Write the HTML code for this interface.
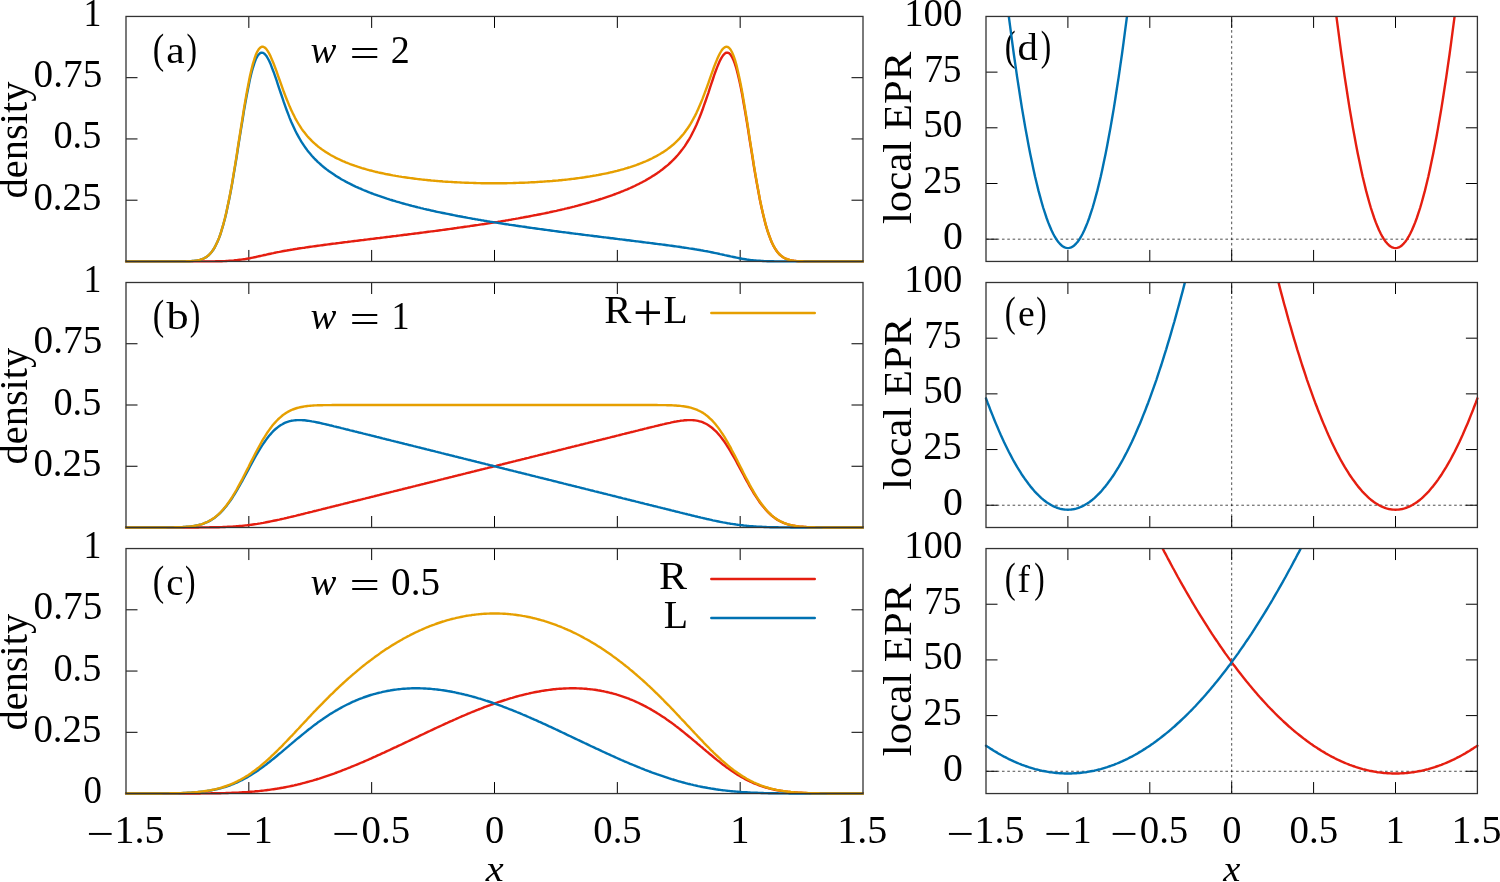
<!DOCTYPE html>
<html><head><meta charset="utf-8"><title>density and local EPR</title>
<style>html,body{margin:0;padding:0;background:#fff;width:1500px;height:882px;overflow:hidden}svg{display:block}</style>
</head><body>
<svg width="1500" height="882" viewBox="0 0 1500 882" font-family="'Liberation Serif', serif" font-size="38.50" fill="#000">
<rect width="1500" height="882" fill="#fff"/>
<defs>
<clipPath id="cr0"><rect x="984.00" y="16.45" width="495.40" height="246.00"/></clipPath>
<clipPath id="cr1"><rect x="984.00" y="282.50" width="495.40" height="246.00"/></clipPath>
<clipPath id="cr2"><rect x="984.00" y="548.55" width="495.40" height="246.00"/></clipPath>
</defs>
<path fill="none" stroke="#000" stroke-width="1.00" d="M248.83 261.45V249.95M248.83 16.45V27.95M371.67 261.45V249.95M371.67 16.45V27.95M494.50 261.45V249.95M494.50 16.45V27.95M617.33 261.45V249.95M617.33 16.45V27.95M740.17 261.45V249.95M740.17 16.45V27.95M126.00 200.20H137.50M863.00 200.20H851.50M126.00 138.95H137.50M863.00 138.95H851.50M126.00 77.70H137.50M863.00 77.70H851.50"/>
<text x="83.52" y="25.95" textLength="17.87" lengthAdjust="spacingAndGlyphs" font-size="40">1</text>
<text x="33.62" y="87.20" textLength="68.66" lengthAdjust="spacingAndGlyphs" font-size="40">0.75</text>
<text x="53.44" y="148.45" textLength="47.92" lengthAdjust="spacingAndGlyphs" font-size="40">0.5</text>
<text x="33.43" y="209.70" textLength="67.94" lengthAdjust="spacingAndGlyphs" font-size="40">0.25</text>
<text transform="translate(27.00,198.41) rotate(-90)" x="0" y="0" textLength="116.75" lengthAdjust="spacingAndGlyphs" font-size="40">density</text>
<text x="152.70" y="62.90" textLength="11.46" lengthAdjust="spacingAndGlyphs" font-size="43">(</text>
<text x="166.23" y="62.90" textLength="18.38" lengthAdjust="spacingAndGlyphs">a</text>
<text x="186.57" y="62.90" textLength="10.51" lengthAdjust="spacingAndGlyphs" font-size="43">)</text>
<text x="310.59" y="62.90" textLength="25.89" lengthAdjust="spacingAndGlyphs" font-style="italic">w</text>
<text x="349.60" y="66.30" textLength="30.41" lengthAdjust="spacingAndGlyphs">=</text>
<text x="390.85" y="62.90" textLength="19.01" lengthAdjust="spacingAndGlyphs" font-size="39">2</text>
<polyline fill="none" stroke="#E51E10" stroke-width="2.40" stroke-linejoin="round" stroke-linecap="round"  points="126.1,261.5 127.6,261.4 129.1,261.4 130.5,261.4 132.0,261.4 133.5,261.4 135.0,261.4 136.4,261.4 137.9,261.4 139.4,261.4 140.9,261.4 142.3,261.4 143.8,261.4 145.3,261.4 146.8,261.4 148.2,261.4 149.7,261.4 151.2,261.4 152.7,261.4 154.1,261.4 155.6,261.4 157.1,261.4 158.6,261.4 160.0,261.4 161.5,261.4 163.0,261.4 164.4,261.4 165.9,261.4 167.4,261.4 168.9,261.4 170.3,261.4 171.8,261.4 173.3,261.4 174.8,261.4 176.2,261.4 177.7,261.4 179.2,261.4 180.7,261.4 182.1,261.4 183.6,261.4 185.1,261.4 186.6,261.4 188.0,261.4 189.5,261.4 191.0,261.4 192.5,261.4 193.9,261.4 195.4,261.4 196.9,261.4 198.3,261.4 199.8,261.4 201.3,261.4 202.8,261.4 204.2,261.4 205.7,261.4 207.2,261.4 208.7,261.4 210.1,261.4 211.6,261.4 213.1,261.4 214.6,261.4 216.0,261.3 217.5,261.3 219.0,261.3 220.5,261.2 221.9,261.2 223.4,261.1 224.9,261.1 226.4,261.0 227.8,260.9 229.3,260.8 230.8,260.7 232.3,260.6 233.7,260.5 235.2,260.3 236.7,260.2 238.1,260.0 239.6,259.8 241.1,259.6 242.6,259.4 244.0,259.2 245.5,259.0 247.0,258.7 248.5,258.4 249.9,258.2 251.4,257.9 252.9,257.6 254.4,257.3 255.8,257.0 257.3,256.6 258.8,256.3 260.3,256.0 261.7,255.7 263.2,255.3 264.7,255.0 266.2,254.7 267.6,254.3 269.1,254.0 270.6,253.7 272.0,253.4 273.5,253.1 275.0,252.7 276.5,252.4 277.9,252.1 279.4,251.9 280.9,251.6 282.4,251.3 283.8,251.0 285.3,250.7 286.8,250.5 288.3,250.2 289.7,250.0 291.2,249.7 292.7,249.5 294.2,249.2 295.6,249.0 297.1,248.8 298.6,248.5 300.1,248.3 301.5,248.1 303.0,247.9 304.5,247.7 306.0,247.4 307.4,247.2 308.9,247.0 310.4,246.8 311.8,246.6 313.3,246.4 314.8,246.2 316.3,246.0 317.7,245.8 319.2,245.6 320.7,245.4 322.2,245.2 323.6,245.0 325.1,244.8 326.6,244.6 328.1,244.4 329.5,244.2 331.0,244.0 332.5,243.8 334.0,243.6 335.4,243.5 336.9,243.3 338.4,243.1 339.9,242.9 341.3,242.7 342.8,242.5 344.3,242.3 345.7,242.1 347.2,242.0 348.7,241.8 350.2,241.6 351.6,241.4 353.1,241.2 354.6,241.0 356.1,240.9 357.5,240.7 359.0,240.5 360.5,240.3 362.0,240.1 363.4,240.0 364.9,239.8 366.4,239.6 367.9,239.4 369.3,239.2 370.8,239.0 372.3,238.9 373.8,238.7 375.2,238.5 376.7,238.3 378.2,238.1 379.7,238.0 381.1,237.8 382.6,237.6 384.1,237.4 385.5,237.2 387.0,237.0 388.5,236.9 390.0,236.7 391.4,236.5 392.9,236.3 394.4,236.1 395.9,236.0 397.3,235.8 398.8,235.6 400.3,235.4 401.8,235.2 403.2,235.0 404.7,234.8 406.2,234.7 407.7,234.5 409.1,234.3 410.6,234.1 412.1,233.9 413.6,233.7 415.0,233.5 416.5,233.4 418.0,233.2 419.4,233.0 420.9,232.8 422.4,232.6 423.9,232.4 425.3,232.2 426.8,232.0 428.3,231.8 429.8,231.6 431.2,231.4 432.7,231.3 434.2,231.1 435.7,230.9 437.1,230.7 438.6,230.5 440.1,230.3 441.6,230.1 443.0,229.9 444.5,229.7 446.0,229.5 447.5,229.3 448.9,229.1 450.4,228.9 451.9,228.7 453.4,228.5 454.8,228.3 456.3,228.1 457.8,227.8 459.2,227.6 460.7,227.4 462.2,227.2 463.7,227.0 465.1,226.8 466.6,226.6 468.1,226.4 469.6,226.2 471.0,225.9 472.5,225.7 474.0,225.5 475.5,225.3 476.9,225.1 478.4,224.9 479.9,224.6 481.4,224.4 482.8,224.2 484.3,224.0 485.8,223.7 487.3,223.5 488.7,223.3 490.2,223.0 491.7,222.8 493.1,222.6 494.6,222.3 496.1,222.1 497.6,221.9 499.0,221.6 500.5,221.4 502.0,221.1 503.5,220.9 504.9,220.7 506.4,220.4 507.9,220.2 509.4,219.9 510.8,219.7 512.3,219.4 513.8,219.1 515.3,218.9 516.7,218.6 518.2,218.4 519.7,218.1 521.2,217.8 522.6,217.6 524.1,217.3 525.6,217.0 527.1,216.7 528.5,216.5 530.0,216.2 531.5,215.9 532.9,215.6 534.4,215.3 535.9,215.1 537.4,214.8 538.8,214.5 540.3,214.2 541.8,213.9 543.3,213.6 544.7,213.3 546.2,213.0 547.7,212.7 549.2,212.4 550.6,212.0 552.1,211.7 553.6,211.4 555.1,211.1 556.5,210.8 558.0,210.4 559.5,210.1 561.0,209.8 562.4,209.4 563.9,209.1 565.4,208.7 566.8,208.4 568.3,208.0 569.8,207.7 571.3,207.3 572.7,206.9 574.2,206.6 575.7,206.2 577.2,205.8 578.6,205.4 580.1,205.0 581.6,204.6 583.1,204.2 584.5,203.8 586.0,203.4 587.5,203.0 589.0,202.6 590.4,202.2 591.9,201.7 593.4,201.3 594.9,200.9 596.3,200.4 597.8,200.0 599.3,199.5 600.8,199.0 602.2,198.6 603.7,198.1 605.2,197.6 606.6,197.1 608.1,196.6 609.6,196.1 611.1,195.6 612.5,195.1 614.0,194.5 615.5,194.0 617.0,193.4 618.4,192.9 619.9,192.3 621.4,191.7 622.9,191.1 624.3,190.5 625.8,189.9 627.3,189.3 628.8,188.6 630.2,188.0 631.7,187.3 633.2,186.6 634.7,186.0 636.1,185.2 637.6,184.5 639.1,183.8 640.5,183.0 642.0,182.3 643.5,181.5 645.0,180.7 646.4,179.9 647.9,179.0 649.4,178.1 650.9,177.3 652.3,176.3 653.8,175.4 655.3,174.4 656.8,173.5 658.2,172.4 659.7,171.4 661.2,170.3 662.7,169.2 664.1,168.0 665.6,166.8 667.1,165.6 668.6,164.3 670.0,163.0 671.5,161.6 673.0,160.2 674.5,158.7 675.9,157.1 677.4,155.5 678.9,153.8 680.3,152.0 681.8,150.1 683.3,148.1 684.8,146.1 686.2,143.9 687.7,141.5 689.2,139.1 690.7,136.5 692.1,133.7 693.6,130.8 695.1,127.7 696.6,124.5 698.0,121.1 699.5,117.5 701.0,113.7 702.5,109.8 703.9,105.7 705.4,101.5 706.9,97.2 708.4,92.8 709.8,88.3 711.3,83.9 712.8,79.5 714.2,75.2 715.7,71.0 717.2,67.1 718.7,63.5 720.1,60.3 721.6,57.6 723.1,55.4 724.6,53.8 726.0,52.8 727.5,52.6 729.0,53.2 730.5,54.6 731.9,56.8 733.4,59.9 734.9,63.9 736.4,68.6 737.8,74.2 739.3,80.6 740.8,87.6 742.3,95.3 743.7,103.5 745.2,112.1 746.7,121.0 748.2,130.2 749.6,139.5 751.1,148.8 752.6,158.0 754.0,167.0 755.5,175.8 757.0,184.2 758.5,192.3 759.9,199.9 761.4,207.0 762.9,213.6 764.4,219.7 765.8,225.2 767.3,230.2 768.8,234.7 770.3,238.7 771.7,242.2 773.2,245.3 774.7,248.0 776.2,250.3 777.6,252.3 779.1,254.0 780.6,255.4 782.1,256.6 783.5,257.5 785.0,258.3 786.5,259.0 787.9,259.5 789.4,259.9 790.9,260.3 792.4,260.6 793.8,260.8 795.3,260.9 796.8,261.1 798.3,261.2 799.7,261.2 801.2,261.3 802.7,261.3 804.2,261.4 805.6,261.4 807.1,261.4 808.6,261.4 810.1,261.4 811.5,261.4 813.0,261.4 814.5,261.4 816.0,261.4 817.4,261.4 818.9,261.4 820.4,261.4 821.9,261.4 823.3,261.4 824.8,261.4 826.3,261.4 827.7,261.4 829.2,261.4 830.7,261.4 832.2,261.4 833.6,261.4 835.1,261.4 836.6,261.4 838.1,261.4 839.5,261.4 841.0,261.4 842.5,261.4 844.0,261.4 845.4,261.4 846.9,261.4 848.4,261.4 849.9,261.4 851.3,261.4 852.8,261.4 854.3,261.4 855.8,261.4 857.2,261.4 858.7,261.4 860.2,261.4 861.6,261.4 862.9,261.4"/>
<polyline fill="none" stroke="#0072B2" stroke-width="2.40" stroke-linejoin="round" stroke-linecap="round"  points="126.1,261.4 127.6,261.4 129.1,261.4 130.5,261.4 132.0,261.4 133.5,261.4 135.0,261.4 136.4,261.4 137.9,261.4 139.4,261.4 140.9,261.4 142.3,261.4 143.8,261.4 145.3,261.4 146.8,261.4 148.2,261.4 149.7,261.4 151.2,261.4 152.7,261.4 154.1,261.4 155.6,261.4 157.1,261.4 158.6,261.4 160.0,261.4 161.5,261.4 163.0,261.4 164.4,261.4 165.9,261.4 167.4,261.4 168.9,261.4 170.3,261.4 171.8,261.4 173.3,261.4 174.8,261.4 176.2,261.4 177.7,261.4 179.2,261.4 180.7,261.4 182.1,261.4 183.6,261.4 185.1,261.4 186.6,261.3 188.0,261.3 189.5,261.2 191.0,261.1 192.5,261.0 193.9,260.9 195.4,260.7 196.9,260.5 198.3,260.2 199.8,259.9 201.3,259.4 202.8,258.9 204.2,258.2 205.7,257.4 207.2,256.4 208.7,255.2 210.1,253.7 211.6,252.0 213.1,250.0 214.6,247.6 216.0,244.8 217.5,241.7 219.0,238.1 220.5,234.0 221.9,229.4 223.4,224.3 224.9,218.7 226.4,212.5 227.8,205.8 229.3,198.7 230.8,191.0 232.3,182.9 233.7,174.4 235.2,165.5 236.7,156.5 238.1,147.2 239.6,137.9 241.1,128.6 242.6,119.5 244.0,110.6 245.5,102.1 247.0,94.0 248.5,86.4 249.9,79.5 251.4,73.3 252.9,67.8 254.4,63.1 255.8,59.3 257.3,56.4 258.8,54.3 260.3,53.0 261.7,52.6 263.2,52.9 264.7,54.0 266.2,55.7 267.6,58.0 269.1,60.8 270.6,64.1 272.0,67.8 273.5,71.7 275.0,75.9 276.5,80.2 277.9,84.6 279.4,89.1 280.9,93.5 282.4,97.9 283.8,102.2 285.3,106.4 286.8,110.5 288.3,114.4 289.7,118.1 291.2,121.7 292.7,125.0 294.2,128.3 295.6,131.3 297.1,134.2 298.6,136.9 300.1,139.5 301.5,141.9 303.0,144.2 304.5,146.4 306.0,148.5 307.4,150.4 308.9,152.3 310.4,154.1 311.8,155.8 313.3,157.4 314.8,159.0 316.3,160.4 317.7,161.9 319.2,163.2 320.7,164.5 322.2,165.8 323.6,167.0 325.1,168.2 326.6,169.4 328.1,170.5 329.5,171.6 331.0,172.6 332.5,173.6 334.0,174.6 335.4,175.6 336.9,176.5 338.4,177.4 339.9,178.3 341.3,179.2 342.8,180.0 344.3,180.8 345.7,181.6 347.2,182.4 348.7,183.2 350.2,183.9 351.6,184.6 353.1,185.4 354.6,186.1 356.1,186.8 357.5,187.4 359.0,188.1 360.5,188.7 362.0,189.4 363.4,190.0 364.9,190.6 366.4,191.2 367.9,191.8 369.3,192.4 370.8,193.0 372.3,193.5 373.8,194.1 375.2,194.6 376.7,195.1 378.2,195.7 379.7,196.2 381.1,196.7 382.6,197.2 384.1,197.7 385.5,198.2 387.0,198.7 388.5,199.1 390.0,199.6 391.4,200.0 392.9,200.5 394.4,200.9 395.9,201.4 397.3,201.8 398.8,202.2 400.3,202.7 401.8,203.1 403.2,203.5 404.7,203.9 406.2,204.3 407.7,204.7 409.1,205.1 410.6,205.5 412.1,205.9 413.6,206.2 415.0,206.6 416.5,207.0 418.0,207.4 419.4,207.7 420.9,208.1 422.4,208.4 423.9,208.8 425.3,209.1 426.8,209.5 428.3,209.8 429.8,210.1 431.2,210.5 432.7,210.8 434.2,211.1 435.7,211.5 437.1,211.8 438.6,212.1 440.1,212.4 441.6,212.7 443.0,213.0 444.5,213.3 446.0,213.6 447.5,213.9 448.9,214.2 450.4,214.5 451.9,214.8 453.4,215.1 454.8,215.4 456.3,215.7 457.8,216.0 459.2,216.2 460.7,216.5 462.2,216.8 463.7,217.1 465.1,217.3 466.6,217.6 468.1,217.9 469.6,218.1 471.0,218.4 472.5,218.7 474.0,218.9 475.5,219.2 476.9,219.4 478.4,219.7 479.9,219.9 481.4,220.2 482.8,220.4 484.3,220.7 485.8,220.9 487.3,221.2 488.7,221.4 490.2,221.7 491.7,221.9 493.1,222.1 494.6,222.4 496.1,222.6 497.6,222.8 499.0,223.1 500.5,223.3 502.0,223.5 503.5,223.8 504.9,224.0 506.4,224.2 507.9,224.4 509.4,224.7 510.8,224.9 512.3,225.1 513.8,225.3 515.3,225.5 516.7,225.8 518.2,226.0 519.7,226.2 521.2,226.4 522.6,226.6 524.1,226.8 525.6,227.0 527.1,227.3 528.5,227.5 530.0,227.7 531.5,227.9 532.9,228.1 534.4,228.3 535.9,228.5 537.4,228.7 538.8,228.9 540.3,229.1 541.8,229.3 543.3,229.5 544.7,229.7 546.2,229.9 547.7,230.1 549.2,230.3 550.6,230.5 552.1,230.7 553.6,230.9 555.1,231.1 556.5,231.3 558.0,231.5 559.5,231.7 561.0,231.9 562.4,232.1 563.9,232.2 565.4,232.4 566.8,232.6 568.3,232.8 569.8,233.0 571.3,233.2 572.7,233.4 574.2,233.6 575.7,233.8 577.2,233.9 578.6,234.1 580.1,234.3 581.6,234.5 583.1,234.7 584.5,234.9 586.0,235.1 587.5,235.2 589.0,235.4 590.4,235.6 591.9,235.8 593.4,236.0 594.9,236.2 596.3,236.3 597.8,236.5 599.3,236.7 600.8,236.9 602.2,237.1 603.7,237.3 605.2,237.4 606.6,237.6 608.1,237.8 609.6,238.0 611.1,238.2 612.5,238.3 614.0,238.5 615.5,238.7 617.0,238.9 618.4,239.1 619.9,239.3 621.4,239.4 622.9,239.6 624.3,239.8 625.8,240.0 627.3,240.2 628.8,240.3 630.2,240.5 631.7,240.7 633.2,240.9 634.7,241.1 636.1,241.3 637.6,241.4 639.1,241.6 640.5,241.8 642.0,242.0 643.5,242.2 645.0,242.4 646.4,242.6 647.9,242.7 649.4,242.9 650.9,243.1 652.3,243.3 653.8,243.5 655.3,243.7 656.8,243.9 658.2,244.1 659.7,244.2 661.2,244.4 662.7,244.6 664.1,244.8 665.6,245.0 667.1,245.2 668.6,245.4 670.0,245.6 671.5,245.8 673.0,246.0 674.5,246.2 675.9,246.4 677.4,246.6 678.9,246.8 680.3,247.0 681.8,247.3 683.3,247.5 684.8,247.7 686.2,247.9 687.7,248.1 689.2,248.4 690.7,248.6 692.1,248.8 693.6,249.0 695.1,249.3 696.6,249.5 698.0,249.8 699.5,250.0 701.0,250.3 702.5,250.5 703.9,250.8 705.4,251.1 706.9,251.3 708.4,251.6 709.8,251.9 711.3,252.2 712.8,252.5 714.2,252.8 715.7,253.1 717.2,253.4 718.7,253.7 720.1,254.1 721.6,254.4 723.1,254.7 724.6,255.1 726.0,255.4 727.5,255.7 729.0,256.0 730.5,256.4 731.9,256.7 733.4,257.0 734.9,257.3 736.4,257.6 737.8,257.9 739.3,258.2 740.8,258.5 742.3,258.8 743.7,259.0 745.2,259.2 746.7,259.5 748.2,259.7 749.6,259.9 751.1,260.1 752.6,260.2 754.0,260.4 755.5,260.5 757.0,260.6 758.5,260.7 759.9,260.8 761.4,260.9 762.9,261.0 764.4,261.1 765.8,261.1 767.3,261.2 768.8,261.2 770.3,261.3 771.7,261.3 773.2,261.3 774.7,261.4 776.2,261.4 777.6,261.4 779.1,261.4 780.6,261.4 782.1,261.4 783.5,261.4 785.0,261.4 786.5,261.4 787.9,261.4 789.4,261.4 790.9,261.4 792.4,261.4 793.8,261.4 795.3,261.4 796.8,261.4 798.3,261.4 799.7,261.4 801.2,261.4 802.7,261.4 804.2,261.4 805.6,261.4 807.1,261.4 808.6,261.4 810.1,261.4 811.5,261.4 813.0,261.4 814.5,261.4 816.0,261.4 817.4,261.4 818.9,261.4 820.4,261.4 821.9,261.4 823.3,261.4 824.8,261.4 826.3,261.4 827.7,261.4 829.2,261.4 830.7,261.4 832.2,261.4 833.6,261.4 835.1,261.4 836.6,261.4 838.1,261.4 839.5,261.4 841.0,261.4 842.5,261.4 844.0,261.4 845.4,261.4 846.9,261.4 848.4,261.4 849.9,261.4 851.3,261.4 852.8,261.4 854.3,261.4 855.8,261.4 857.2,261.4 858.7,261.4 860.2,261.4 861.6,261.4 862.9,261.4"/>
<polyline fill="none" stroke="#E69F00" stroke-width="2.40" stroke-linejoin="round" stroke-linecap="round"  points="126.1,261.4 127.6,261.4 129.1,261.4 130.5,261.4 132.0,261.4 133.5,261.4 135.0,261.4 136.4,261.4 137.9,261.4 139.4,261.4 140.9,261.4 142.3,261.4 143.8,261.4 145.3,261.4 146.8,261.4 148.2,261.4 149.7,261.4 151.2,261.4 152.7,261.4 154.1,261.4 155.6,261.4 157.1,261.4 158.6,261.4 160.0,261.4 161.5,261.4 163.0,261.4 164.4,261.4 165.9,261.4 167.4,261.4 168.9,261.4 170.3,261.4 171.8,261.4 173.3,261.4 174.8,261.4 176.2,261.4 177.7,261.4 179.2,261.4 180.7,261.4 182.1,261.4 183.6,261.4 185.1,261.4 186.6,261.3 188.0,261.3 189.5,261.2 191.0,261.1 192.5,261.0 193.9,260.9 195.4,260.7 196.9,260.5 198.3,260.2 199.8,259.9 201.3,259.4 202.8,258.9 204.2,258.2 205.7,257.4 207.2,256.3 208.7,255.1 210.1,253.7 211.6,251.9 213.1,249.9 214.6,247.5 216.0,244.7 217.5,241.5 219.0,237.9 220.5,233.8 221.9,229.2 223.4,224.0 224.9,218.3 226.4,212.1 227.8,205.3 229.3,198.0 230.8,190.3 232.3,182.0 233.7,173.4 235.2,164.4 236.7,155.2 238.1,145.8 239.6,136.3 241.1,126.8 242.6,117.5 244.0,108.4 245.5,99.6 247.0,91.2 248.5,83.4 249.9,76.2 251.4,69.7 252.9,63.9 254.4,59.0 255.8,54.8 257.3,51.6 258.8,49.1 260.3,47.6 261.7,46.8 263.2,46.8 264.7,47.5 266.2,48.9 267.6,50.9 269.1,53.4 270.6,56.4 272.0,59.7 273.5,63.3 275.0,67.2 276.5,71.2 277.9,75.3 279.4,79.5 280.9,83.6 282.4,87.8 283.8,91.8 285.3,95.7 286.8,99.5 288.3,103.1 289.7,106.6 291.2,109.9 292.7,113.1 294.2,116.0 295.6,118.9 297.1,121.5 298.6,124.0 300.1,126.4 301.5,128.6 303.0,130.7 304.5,132.6 306.0,134.5 307.4,136.2 308.9,137.9 310.4,139.4 311.8,140.9 313.3,142.3 314.8,143.7 316.3,145.0 317.7,146.2 319.2,147.4 320.7,148.5 322.2,149.6 323.6,150.6 325.1,151.6 326.6,152.5 328.1,153.4 329.5,154.3 331.0,155.2 332.5,156.0 334.0,156.8 335.4,157.6 336.9,158.3 338.4,159.0 339.9,159.7 341.3,160.4 342.8,161.1 344.3,161.7 345.7,162.3 347.2,162.9 348.7,163.5 350.2,164.1 351.6,164.6 353.1,165.1 354.6,165.7 356.1,166.2 357.5,166.7 359.0,167.1 360.5,167.6 362.0,168.1 363.4,168.5 364.9,168.9 366.4,169.4 367.9,169.8 369.3,170.2 370.8,170.5 372.3,170.9 373.8,171.3 375.2,171.7 376.7,172.0 378.2,172.4 379.7,172.7 381.1,173.0 382.6,173.3 384.1,173.6 385.5,174.0 387.0,174.2 388.5,174.5 390.0,174.8 391.4,175.1 392.9,175.4 394.4,175.6 395.9,175.9 397.3,176.1 398.8,176.4 400.3,176.6 401.8,176.9 403.2,177.1 404.7,177.3 406.2,177.5 407.7,177.7 409.1,177.9 410.6,178.1 412.1,178.3 413.6,178.5 415.0,178.7 416.5,178.9 418.0,179.1 419.4,179.2 420.9,179.4 422.4,179.6 423.9,179.7 425.3,179.9 426.8,180.0 428.3,180.2 429.8,180.3 431.2,180.5 432.7,180.6 434.2,180.7 435.7,180.9 437.1,181.0 438.6,181.1 440.1,181.2 441.6,181.3 443.0,181.5 444.5,181.6 446.0,181.7 447.5,181.8 448.9,181.9 450.4,181.9 451.9,182.0 453.4,182.1 454.8,182.2 456.3,182.3 457.8,182.4 459.2,182.4 460.7,182.5 462.2,182.6 463.7,182.6 465.1,182.7 466.6,182.7 468.1,182.8 469.6,182.9 471.0,182.9 472.5,182.9 474.0,183.0 475.5,183.0 476.9,183.1 478.4,183.1 479.9,183.1 481.4,183.2 482.8,183.2 484.3,183.2 485.8,183.2 487.3,183.2 488.7,183.2 490.2,183.3 491.7,183.3 493.1,183.3 494.6,183.3 496.1,183.3 497.6,183.3 499.0,183.3 500.5,183.2 502.0,183.2 503.5,183.2 504.9,183.2 506.4,183.2 507.9,183.1 509.4,183.1 510.8,183.1 512.3,183.1 513.8,183.0 515.3,183.0 516.7,182.9 518.2,182.9 519.7,182.8 521.2,182.8 522.6,182.7 524.1,182.7 525.6,182.6 527.1,182.6 528.5,182.5 530.0,182.4 531.5,182.3 532.9,182.3 534.4,182.2 535.9,182.1 537.4,182.0 538.8,181.9 540.3,181.8 541.8,181.7 543.3,181.6 544.7,181.5 546.2,181.4 547.7,181.3 549.2,181.2 550.6,181.1 552.1,181.0 553.6,180.8 555.1,180.7 556.5,180.6 558.0,180.5 559.5,180.3 561.0,180.2 562.4,180.0 563.9,179.9 565.4,179.7 566.8,179.6 568.3,179.4 569.8,179.2 571.3,179.0 572.7,178.9 574.2,178.7 575.7,178.5 577.2,178.3 578.6,178.1 580.1,177.9 581.6,177.7 583.1,177.5 584.5,177.3 586.0,177.0 587.5,176.8 589.0,176.6 590.4,176.3 591.9,176.1 593.4,175.8 594.9,175.6 596.3,175.3 597.8,175.1 599.3,174.8 600.8,174.5 602.2,174.2 603.7,173.9 605.2,173.6 606.6,173.3 608.1,173.0 609.6,172.6 611.1,172.3 612.5,172.0 614.0,171.6 615.5,171.2 617.0,170.9 618.4,170.5 619.9,170.1 621.4,169.7 622.9,169.3 624.3,168.9 625.8,168.4 627.3,168.0 628.8,167.5 630.2,167.1 631.7,166.6 633.2,166.1 634.7,165.6 636.1,165.1 637.6,164.5 639.1,164.0 640.5,163.4 642.0,162.8 643.5,162.2 645.0,161.6 646.4,161.0 647.9,160.3 649.4,159.6 650.9,158.9 652.3,158.2 653.8,157.4 655.3,156.7 656.8,155.9 658.2,155.0 659.7,154.2 661.2,153.3 662.7,152.4 664.1,151.4 665.6,150.4 667.1,149.4 668.6,148.3 670.0,147.2 671.5,146.0 673.0,144.8 674.5,143.5 675.9,142.1 677.4,140.7 678.9,139.2 680.3,137.6 681.8,135.9 683.3,134.2 684.8,132.3 686.2,130.3 687.7,128.2 689.2,126.0 690.7,123.6 692.1,121.1 693.6,118.4 695.1,115.6 696.6,112.6 698.0,109.4 699.5,106.0 701.0,102.5 702.5,98.9 703.9,95.1 705.4,91.1 706.9,87.1 708.4,83.0 709.8,78.8 711.3,74.6 712.8,70.5 714.2,66.5 715.7,62.7 717.2,59.1 718.7,55.8 720.1,53.0 721.6,50.5 723.1,48.6 724.6,47.4 726.0,46.7 727.5,46.9 729.0,47.8 730.5,49.5 731.9,52.0 733.4,55.5 734.9,59.7 736.4,64.8 737.8,70.7 739.3,77.4 740.8,84.7 742.3,92.6 743.7,101.0 745.2,109.9 746.7,119.0 748.2,128.4 749.6,137.9 751.1,147.4 752.6,156.7 754.0,165.9 755.5,174.9 757.0,183.4 758.5,191.6 759.9,199.3 761.4,206.5 762.9,213.2 764.4,219.3 765.8,224.9 767.3,230.0 768.8,234.5 770.3,238.5 771.7,242.1 773.2,245.2 774.7,247.9 776.2,250.2 777.6,252.2 779.1,253.9 780.6,255.3 782.1,256.5 783.5,257.5 785.0,258.3 786.5,259.0 787.9,259.5 789.4,259.9 790.9,260.3 792.4,260.6 793.8,260.8 795.3,260.9 796.8,261.1 798.3,261.2 799.7,261.2 801.2,261.3 802.7,261.3 804.2,261.4 805.6,261.4 807.1,261.4 808.6,261.4 810.1,261.4 811.5,261.4 813.0,261.4 814.5,261.4 816.0,261.4 817.4,261.4 818.9,261.4 820.4,261.4 821.9,261.4 823.3,261.4 824.8,261.4 826.3,261.4 827.7,261.4 829.2,261.4 830.7,261.4 832.2,261.4 833.6,261.4 835.1,261.4 836.6,261.4 838.1,261.4 839.5,261.4 841.0,261.4 842.5,261.4 844.0,261.4 845.4,261.4 846.9,261.4 848.4,261.4 849.9,261.4 851.3,261.4 852.8,261.4 854.3,261.4 855.8,261.4 857.2,261.4 858.7,261.4 860.2,261.4 861.6,261.4 862.9,261.4"/>
<rect x="126.00" y="16.45" width="737.00" height="245.00" fill="none" stroke="#333" stroke-width="1.30"/>
<path fill="none" stroke="#000" stroke-width="1.00" d="M1067.90 261.45V249.95M1067.90 16.45V27.95M1149.80 261.45V249.95M1149.80 16.45V27.95M1231.70 261.45V249.95M1231.70 16.45V27.95M1313.60 261.45V249.95M1313.60 16.45V27.95M1395.50 261.45V249.95M1395.50 16.45V27.95M986.00 239.18H997.50M1477.40 239.18H1465.90M986.00 183.50H997.50M1477.40 183.50H1465.90M986.00 127.81H997.50M1477.40 127.81H1465.90M986.00 72.13H997.50M1477.40 72.13H1465.90"/>
<text x="904.30" y="25.95" textLength="57.96" lengthAdjust="spacingAndGlyphs" font-size="40">100</text>
<text x="924.13" y="81.63" textLength="37.41" lengthAdjust="spacingAndGlyphs" font-size="40">75</text>
<text x="923.24" y="137.31" textLength="39.14" lengthAdjust="spacingAndGlyphs" font-size="40">50</text>
<text x="923.29" y="193.00" textLength="38.27" lengthAdjust="spacingAndGlyphs" font-size="40">25</text>
<text x="943.01" y="248.68" textLength="19.89" lengthAdjust="spacingAndGlyphs" font-size="40">0</text>
<text transform="translate(911.00,224.07) rotate(-90)" x="0" y="0" textLength="172.47" lengthAdjust="spacingAndGlyphs" font-size="40">local EPR</text>
<text x="1004.87" y="59.50" textLength="10.94" lengthAdjust="spacingAndGlyphs" font-size="43">(</text>
<text x="1017.54" y="59.50" textLength="20.32" lengthAdjust="spacingAndGlyphs">d</text>
<text x="1040.68" y="59.50" textLength="10.39" lengthAdjust="spacingAndGlyphs" font-size="43">)</text>
<path fill="none" stroke="#000" stroke-width="0.7" stroke-dasharray="2.6,2.72" d="M986.00 239.18H1477.40M1231.70 261.45V16.45"/>
<g clip-path="url(#cr0)">
<polyline fill="none" stroke="#E51E10" stroke-width="2.40" stroke-linejoin="round" stroke-linecap="round"  points="986.0,-10888.3 987.6,-10799.4 989.3,-10710.8 990.9,-10622.6 992.6,-10534.8 994.2,-10447.3 995.8,-10360.1 997.5,-10273.4 999.1,-10187.0 1000.7,-10100.9 1002.4,-10015.2 1004.0,-9929.8 1005.7,-9844.8 1007.3,-9760.2 1008.9,-9675.9 1010.6,-9592.0 1012.2,-9508.4 1013.8,-9425.2 1015.5,-9342.4 1017.1,-9259.9 1018.8,-9177.7 1020.4,-9095.9 1022.0,-9014.5 1023.7,-8933.4 1025.3,-8852.7 1027.0,-8772.4 1028.6,-8692.4 1030.2,-8612.7 1031.9,-8533.4 1033.5,-8454.5 1035.1,-8375.9 1036.8,-8297.7 1038.4,-8219.8 1040.1,-8142.3 1041.7,-8065.2 1043.3,-7988.4 1045.0,-7911.9 1046.6,-7835.8 1048.2,-7760.1 1049.9,-7684.7 1051.5,-7609.7 1053.2,-7535.1 1054.8,-7460.8 1056.4,-7386.8 1058.1,-7313.2 1059.7,-7240.0 1061.3,-7167.1 1063.0,-7094.6 1064.6,-7022.4 1066.3,-6950.6 1067.9,-6879.2 1069.5,-6808.1 1071.2,-6737.4 1072.8,-6667.0 1074.5,-6596.9 1076.1,-6527.3 1077.7,-6458.0 1079.4,-6389.0 1081.0,-6320.4 1082.6,-6252.2 1084.3,-6184.3 1085.9,-6116.7 1087.6,-6049.6 1089.2,-5982.8 1090.8,-5916.3 1092.5,-5850.2 1094.1,-5784.4 1095.7,-5719.0 1097.4,-5654.0 1099.0,-5589.3 1100.7,-5525.0 1102.3,-5461.0 1103.9,-5397.4 1105.6,-5334.2 1107.2,-5271.3 1108.8,-5208.7 1110.5,-5146.5 1112.1,-5084.7 1113.8,-5023.2 1115.4,-4962.1 1117.0,-4901.4 1118.7,-4841.0 1120.3,-4780.9 1122.0,-4721.2 1123.6,-4661.9 1125.2,-4602.9 1126.9,-4544.3 1128.5,-4486.0 1130.1,-4428.1 1131.8,-4370.6 1133.4,-4313.4 1135.1,-4256.5 1136.7,-4200.0 1138.3,-4143.9 1140.0,-4088.1 1141.6,-4032.7 1143.2,-3977.7 1144.9,-3923.0 1146.5,-3868.6 1148.2,-3814.6 1149.8,-3761.0 1151.4,-3707.7 1153.1,-3654.8 1154.7,-3602.2 1156.4,-3550.0 1158.0,-3498.2 1159.6,-3446.7 1161.3,-3395.6 1162.9,-3344.8 1164.5,-3294.3 1166.2,-3244.3 1167.8,-3194.6 1169.5,-3145.2 1171.1,-3096.2 1172.7,-3047.6 1174.4,-2999.3 1176.0,-2951.3 1177.6,-2903.8 1179.3,-2856.6 1180.9,-2809.7 1182.6,-2763.2 1184.2,-2717.0 1185.8,-2671.2 1187.5,-2625.8 1189.1,-2580.7 1190.8,-2536.0 1192.4,-2491.6 1194.0,-2447.6 1195.7,-2404.0 1197.3,-2360.7 1198.9,-2317.7 1200.6,-2275.1 1202.2,-2232.9 1203.9,-2191.0 1205.5,-2149.5 1207.1,-2108.4 1208.8,-2067.6 1210.4,-2027.1 1212.0,-1987.0 1213.7,-1947.3 1215.3,-1907.9 1217.0,-1868.9 1218.6,-1830.2 1220.2,-1791.9 1221.9,-1754.0 1223.5,-1716.4 1225.1,-1679.1 1226.8,-1642.2 1228.4,-1605.7 1230.1,-1569.5 1231.7,-1533.7 1233.3,-1498.3 1235.0,-1463.2 1236.6,-1428.4 1238.3,-1394.0 1239.9,-1360.0 1241.5,-1326.3 1243.2,-1293.0 1244.8,-1260.0 1246.4,-1227.4 1248.1,-1195.2 1249.7,-1163.3 1251.4,-1131.8 1253.0,-1100.6 1254.6,-1069.7 1256.3,-1039.3 1257.9,-1009.2 1259.5,-979.4 1261.2,-950.0 1262.8,-921.0 1264.5,-892.3 1266.1,-863.9 1267.7,-836.0 1269.4,-808.4 1271.0,-781.1 1272.7,-754.2 1274.3,-727.6 1275.9,-701.4 1277.6,-675.6 1279.2,-650.1 1280.8,-625.0 1282.5,-600.2 1284.1,-575.8 1285.8,-551.8 1287.4,-528.1 1289.0,-504.7 1290.7,-481.7 1292.3,-459.1 1293.9,-436.8 1295.6,-414.9 1297.2,-393.4 1298.9,-372.2 1300.5,-351.3 1302.1,-330.8 1303.8,-310.7 1305.4,-290.9 1307.0,-271.5 1308.7,-252.4 1310.3,-233.7 1312.0,-215.4 1313.6,-197.4 1315.2,-179.7 1316.9,-162.4 1318.5,-145.5 1320.2,-128.9 1321.8,-112.7 1323.4,-96.9 1325.1,-81.4 1326.7,-66.2 1328.3,-51.4 1330.0,-37.0 1331.6,-22.9 1333.3,-9.2 1334.9,4.2 1336.5,17.2 1338.2,29.8 1339.8,42.1 1341.4,54.0 1343.1,65.6 1344.7,76.9 1346.4,87.7 1348.0,98.2 1349.6,108.4 1351.3,118.2 1352.9,127.6 1354.6,136.7 1356.2,145.5 1357.8,153.8 1359.5,161.8 1361.1,169.5 1362.7,176.8 1364.4,183.8 1366.0,190.4 1367.7,196.6 1369.3,202.5 1370.9,208.0 1372.6,213.2 1374.2,218.0 1375.8,222.4 1377.5,226.5 1379.1,230.3 1380.8,233.7 1382.4,236.7 1384.0,239.4 1385.7,241.7 1387.3,243.6 1388.9,245.2 1390.6,246.5 1392.2,247.4 1393.9,247.9 1395.5,248.1 1397.1,247.9 1398.8,247.4 1400.4,246.5 1402.1,245.2 1403.7,243.6 1405.3,241.7 1407.0,239.4 1408.6,236.7 1410.2,233.7 1411.9,230.3 1413.5,226.5 1415.2,222.4 1416.8,218.0 1418.4,213.2 1420.1,208.0 1421.7,202.5 1423.3,196.6 1425.0,190.4 1426.6,183.8 1428.3,176.8 1429.9,169.5 1431.5,161.8 1433.2,153.8 1434.8,145.5 1436.5,136.7 1438.1,127.6 1439.7,118.2 1441.4,108.4 1443.0,98.2 1444.6,87.7 1446.3,76.9 1447.9,65.6 1449.6,54.0 1451.2,42.1 1452.8,29.8 1454.5,17.2 1456.1,4.2 1457.7,-9.2 1459.4,-22.9 1461.0,-37.0 1462.7,-51.4 1464.3,-66.2 1465.9,-81.4 1467.6,-96.9 1469.2,-112.7 1470.8,-128.9 1472.5,-145.5 1474.1,-162.4 1475.8,-179.7 1477.4,-197.4"/>
<polyline fill="none" stroke="#0072B2" stroke-width="2.40" stroke-linejoin="round" stroke-linecap="round"  points="986.0,-197.4 987.6,-179.7 989.3,-162.4 990.9,-145.5 992.6,-128.9 994.2,-112.7 995.8,-96.9 997.5,-81.4 999.1,-66.2 1000.7,-51.4 1002.4,-37.0 1004.0,-22.9 1005.7,-9.2 1007.3,4.2 1008.9,17.2 1010.6,29.8 1012.2,42.1 1013.8,54.0 1015.5,65.6 1017.1,76.9 1018.8,87.7 1020.4,98.2 1022.0,108.4 1023.7,118.2 1025.3,127.6 1027.0,136.7 1028.6,145.5 1030.2,153.8 1031.9,161.8 1033.5,169.5 1035.1,176.8 1036.8,183.8 1038.4,190.4 1040.1,196.6 1041.7,202.5 1043.3,208.0 1045.0,213.2 1046.6,218.0 1048.2,222.4 1049.9,226.5 1051.5,230.3 1053.2,233.7 1054.8,236.7 1056.4,239.4 1058.1,241.7 1059.7,243.6 1061.3,245.2 1063.0,246.5 1064.6,247.4 1066.3,247.9 1067.9,248.1 1069.5,247.9 1071.2,247.4 1072.8,246.5 1074.5,245.2 1076.1,243.6 1077.7,241.7 1079.4,239.4 1081.0,236.7 1082.6,233.7 1084.3,230.3 1085.9,226.5 1087.6,222.4 1089.2,218.0 1090.8,213.2 1092.5,208.0 1094.1,202.5 1095.7,196.6 1097.4,190.4 1099.0,183.8 1100.7,176.8 1102.3,169.5 1103.9,161.8 1105.6,153.8 1107.2,145.5 1108.8,136.7 1110.5,127.6 1112.1,118.2 1113.8,108.4 1115.4,98.2 1117.0,87.7 1118.7,76.9 1120.3,65.6 1122.0,54.0 1123.6,42.1 1125.2,29.8 1126.9,17.2 1128.5,4.2 1130.1,-9.2 1131.8,-22.9 1133.4,-37.0 1135.1,-51.4 1136.7,-66.2 1138.3,-81.4 1140.0,-96.9 1141.6,-112.7 1143.2,-128.9 1144.9,-145.5 1146.5,-162.4 1148.2,-179.7 1149.8,-197.4 1151.4,-215.4 1153.1,-233.7 1154.7,-252.4 1156.4,-271.5 1158.0,-290.9 1159.6,-310.7 1161.3,-330.8 1162.9,-351.3 1164.5,-372.2 1166.2,-393.4 1167.8,-414.9 1169.5,-436.8 1171.1,-459.1 1172.7,-481.7 1174.4,-504.7 1176.0,-528.1 1177.6,-551.8 1179.3,-575.8 1180.9,-600.2 1182.6,-625.0 1184.2,-650.1 1185.8,-675.6 1187.5,-701.4 1189.1,-727.6 1190.8,-754.2 1192.4,-781.1 1194.0,-808.4 1195.7,-836.0 1197.3,-863.9 1198.9,-892.3 1200.6,-921.0 1202.2,-950.0 1203.9,-979.4 1205.5,-1009.2 1207.1,-1039.3 1208.8,-1069.7 1210.4,-1100.6 1212.0,-1131.8 1213.7,-1163.3 1215.3,-1195.2 1217.0,-1227.4 1218.6,-1260.0 1220.2,-1293.0 1221.9,-1326.3 1223.5,-1360.0 1225.1,-1394.0 1226.8,-1428.4 1228.4,-1463.2 1230.1,-1498.3 1231.7,-1533.7 1233.3,-1569.5 1235.0,-1605.7 1236.6,-1642.2 1238.3,-1679.1 1239.9,-1716.4 1241.5,-1754.0 1243.2,-1791.9 1244.8,-1830.2 1246.4,-1868.9 1248.1,-1907.9 1249.7,-1947.3 1251.4,-1987.0 1253.0,-2027.1 1254.6,-2067.6 1256.3,-2108.4 1257.9,-2149.5 1259.5,-2191.0 1261.2,-2232.9 1262.8,-2275.1 1264.5,-2317.7 1266.1,-2360.7 1267.7,-2404.0 1269.4,-2447.6 1271.0,-2491.6 1272.7,-2536.0 1274.3,-2580.7 1275.9,-2625.8 1277.6,-2671.2 1279.2,-2717.0 1280.8,-2763.2 1282.5,-2809.7 1284.1,-2856.6 1285.8,-2903.8 1287.4,-2951.3 1289.0,-2999.3 1290.7,-3047.6 1292.3,-3096.2 1293.9,-3145.2 1295.6,-3194.6 1297.2,-3244.3 1298.9,-3294.3 1300.5,-3344.8 1302.1,-3395.6 1303.8,-3446.7 1305.4,-3498.2 1307.0,-3550.0 1308.7,-3602.2 1310.3,-3654.8 1312.0,-3707.7 1313.6,-3761.0 1315.2,-3814.6 1316.9,-3868.6 1318.5,-3923.0 1320.2,-3977.7 1321.8,-4032.7 1323.4,-4088.1 1325.1,-4143.9 1326.7,-4200.0 1328.3,-4256.5 1330.0,-4313.4 1331.6,-4370.6 1333.3,-4428.1 1334.9,-4486.0 1336.5,-4544.3 1338.2,-4602.9 1339.8,-4661.9 1341.4,-4721.2 1343.1,-4780.9 1344.7,-4841.0 1346.4,-4901.4 1348.0,-4962.1 1349.6,-5023.2 1351.3,-5084.7 1352.9,-5146.5 1354.6,-5208.7 1356.2,-5271.3 1357.8,-5334.2 1359.5,-5397.4 1361.1,-5461.0 1362.7,-5525.0 1364.4,-5589.3 1366.0,-5654.0 1367.7,-5719.0 1369.3,-5784.4 1370.9,-5850.2 1372.6,-5916.3 1374.2,-5982.8 1375.8,-6049.6 1377.5,-6116.7 1379.1,-6184.3 1380.8,-6252.2 1382.4,-6320.4 1384.0,-6389.0 1385.7,-6458.0 1387.3,-6527.3 1388.9,-6596.9 1390.6,-6667.0 1392.2,-6737.4 1393.9,-6808.1 1395.5,-6879.2 1397.1,-6950.6 1398.8,-7022.4 1400.4,-7094.6 1402.1,-7167.1 1403.7,-7240.0 1405.3,-7313.2 1407.0,-7386.8 1408.6,-7460.8 1410.2,-7535.1 1411.9,-7609.7 1413.5,-7684.7 1415.2,-7760.1 1416.8,-7835.8 1418.4,-7911.9 1420.1,-7988.4 1421.7,-8065.2 1423.3,-8142.3 1425.0,-8219.8 1426.6,-8297.7 1428.3,-8375.9 1429.9,-8454.5 1431.5,-8533.4 1433.2,-8612.7 1434.8,-8692.4 1436.5,-8772.4 1438.1,-8852.7 1439.7,-8933.4 1441.4,-9014.5 1443.0,-9095.9 1444.6,-9177.7 1446.3,-9259.9 1447.9,-9342.4 1449.6,-9425.2 1451.2,-9508.4 1452.8,-9592.0 1454.5,-9675.9 1456.1,-9760.2 1457.7,-9844.8 1459.4,-9929.8 1461.0,-10015.2 1462.7,-10100.9 1464.3,-10187.0 1465.9,-10273.4 1467.6,-10360.1 1469.2,-10447.3 1470.8,-10534.8 1472.5,-10622.6 1474.1,-10710.8 1475.8,-10799.4 1477.4,-10888.3"/>
</g>
<rect x="986.00" y="16.45" width="491.40" height="245.00" fill="none" stroke="#333" stroke-width="1.30"/>
<path fill="none" stroke="#000" stroke-width="1.00" d="M248.83 527.50V516.00M248.83 282.50V294.00M371.67 527.50V516.00M371.67 282.50V294.00M494.50 527.50V516.00M494.50 282.50V294.00M617.33 527.50V516.00M617.33 282.50V294.00M740.17 527.50V516.00M740.17 282.50V294.00M126.00 466.25H137.50M863.00 466.25H851.50M126.00 405.00H137.50M863.00 405.00H851.50M126.00 343.75H137.50M863.00 343.75H851.50"/>
<text x="83.52" y="292.00" textLength="17.87" lengthAdjust="spacingAndGlyphs" font-size="40">1</text>
<text x="33.62" y="353.25" textLength="68.66" lengthAdjust="spacingAndGlyphs" font-size="40">0.75</text>
<text x="53.44" y="414.50" textLength="47.92" lengthAdjust="spacingAndGlyphs" font-size="40">0.5</text>
<text x="33.43" y="475.75" textLength="67.94" lengthAdjust="spacingAndGlyphs" font-size="40">0.25</text>
<text transform="translate(27.00,464.46) rotate(-90)" x="0" y="0" textLength="116.75" lengthAdjust="spacingAndGlyphs" font-size="40">density</text>
<text x="152.70" y="328.95" textLength="11.46" lengthAdjust="spacingAndGlyphs" font-size="43">(</text>
<text x="166.40" y="328.95" textLength="22.14" lengthAdjust="spacingAndGlyphs">b</text>
<text x="189.77" y="328.95" textLength="10.51" lengthAdjust="spacingAndGlyphs" font-size="43">)</text>
<text x="310.59" y="328.95" textLength="25.89" lengthAdjust="spacingAndGlyphs" font-style="italic">w</text>
<text x="349.60" y="332.35" textLength="30.41" lengthAdjust="spacingAndGlyphs">=</text>
<text x="391.51" y="328.95" textLength="18.11" lengthAdjust="spacingAndGlyphs" font-size="39">1</text>
<polyline fill="none" stroke="#E51E10" stroke-width="2.40" stroke-linejoin="round" stroke-linecap="round"  points="126.1,527.5 127.6,527.5 129.1,527.5 130.5,527.5 132.0,527.5 133.5,527.5 135.0,527.5 136.4,527.5 137.9,527.5 139.4,527.5 140.9,527.5 142.3,527.5 143.8,527.5 145.3,527.5 146.8,527.5 148.2,527.5 149.7,527.5 151.2,527.5 152.7,527.5 154.1,527.5 155.6,527.5 157.1,527.5 158.6,527.5 160.0,527.5 161.5,527.5 163.0,527.5 164.4,527.5 165.9,527.5 167.4,527.5 168.9,527.5 170.3,527.5 171.8,527.5 173.3,527.5 174.8,527.5 176.2,527.5 177.7,527.5 179.2,527.5 180.7,527.5 182.1,527.5 183.6,527.5 185.1,527.5 186.6,527.5 188.0,527.5 189.5,527.5 191.0,527.5 192.5,527.5 193.9,527.5 195.4,527.5 196.9,527.5 198.3,527.5 199.8,527.4 201.3,527.4 202.8,527.4 204.2,527.4 205.7,527.4 207.2,527.4 208.7,527.4 210.1,527.3 211.6,527.3 213.1,527.3 214.6,527.3 216.0,527.2 217.5,527.2 219.0,527.2 220.5,527.1 221.9,527.1 223.4,527.0 224.9,527.0 226.4,526.9 227.8,526.8 229.3,526.8 230.8,526.7 232.3,526.6 233.7,526.5 235.2,526.4 236.7,526.3 238.1,526.2 239.6,526.0 241.1,525.9 242.6,525.8 244.0,525.6 245.5,525.4 247.0,525.3 248.5,525.1 249.9,524.9 251.4,524.7 252.9,524.5 254.4,524.3 255.8,524.1 257.3,523.9 258.8,523.6 260.3,523.4 261.7,523.1 263.2,522.9 264.7,522.6 266.2,522.3 267.6,522.0 269.1,521.7 270.6,521.4 272.0,521.1 273.5,520.8 275.0,520.5 276.5,520.2 277.9,519.9 279.4,519.6 280.9,519.2 282.4,518.9 283.8,518.6 285.3,518.2 286.8,517.9 288.3,517.5 289.7,517.2 291.2,516.8 292.7,516.5 294.2,516.1 295.6,515.8 297.1,515.4 298.6,515.0 300.1,514.7 301.5,514.3 303.0,514.0 304.5,513.6 306.0,513.2 307.4,512.9 308.9,512.5 310.4,512.1 311.8,511.8 313.3,511.4 314.8,511.0 316.3,510.7 317.7,510.3 319.2,509.9 320.7,509.6 322.2,509.2 323.6,508.8 325.1,508.5 326.6,508.1 328.1,507.7 329.5,507.4 331.0,507.0 332.5,506.6 334.0,506.3 335.4,505.9 336.9,505.5 338.4,505.2 339.9,504.8 341.3,504.4 342.8,504.1 344.3,503.7 345.7,503.3 347.2,503.0 348.7,502.6 350.2,502.2 351.6,501.9 353.1,501.5 354.6,501.1 356.1,500.8 357.5,500.4 359.0,500.0 360.5,499.7 362.0,499.3 363.4,498.9 364.9,498.6 366.4,498.2 367.9,497.8 369.3,497.5 370.8,497.1 372.3,496.7 373.8,496.4 375.2,496.0 376.7,495.6 378.2,495.3 379.7,494.9 381.1,494.5 382.6,494.1 384.1,493.8 385.5,493.4 387.0,493.0 388.5,492.7 390.0,492.3 391.4,491.9 392.9,491.6 394.4,491.2 395.9,490.8 397.3,490.5 398.8,490.1 400.3,489.7 401.8,489.4 403.2,489.0 404.7,488.6 406.2,488.3 407.7,487.9 409.1,487.5 410.6,487.2 412.1,486.8 413.6,486.4 415.0,486.1 416.5,485.7 418.0,485.3 419.4,485.0 420.9,484.6 422.4,484.2 423.9,483.9 425.3,483.5 426.8,483.1 428.3,482.8 429.8,482.4 431.2,482.0 432.7,481.7 434.2,481.3 435.7,480.9 437.1,480.6 438.6,480.2 440.1,479.8 441.6,479.4 443.0,479.1 444.5,478.7 446.0,478.3 447.5,478.0 448.9,477.6 450.4,477.2 451.9,476.9 453.4,476.5 454.8,476.1 456.3,475.8 457.8,475.4 459.2,475.0 460.7,474.7 462.2,474.3 463.7,473.9 465.1,473.6 466.6,473.2 468.1,472.8 469.6,472.5 471.0,472.1 472.5,471.7 474.0,471.4 475.5,471.0 476.9,470.6 478.4,470.3 479.9,469.9 481.4,469.5 482.8,469.2 484.3,468.8 485.8,468.4 487.3,468.1 488.7,467.7 490.2,467.3 491.7,467.0 493.1,466.6 494.6,466.2 496.1,465.9 497.6,465.5 499.0,465.1 500.5,464.7 502.0,464.4 503.5,464.0 504.9,463.6 506.4,463.3 507.9,462.9 509.4,462.5 510.8,462.2 512.3,461.8 513.8,461.4 515.3,461.1 516.7,460.7 518.2,460.3 519.7,460.0 521.2,459.6 522.6,459.2 524.1,458.9 525.6,458.5 527.1,458.1 528.5,457.8 530.0,457.4 531.5,457.0 532.9,456.7 534.4,456.3 535.9,455.9 537.4,455.6 538.8,455.2 540.3,454.8 541.8,454.5 543.3,454.1 544.7,453.7 546.2,453.4 547.7,453.0 549.2,452.6 550.6,452.3 552.1,451.9 553.6,451.5 555.1,451.2 556.5,450.8 558.0,450.4 559.5,450.0 561.0,449.7 562.4,449.3 563.9,448.9 565.4,448.6 566.8,448.2 568.3,447.8 569.8,447.5 571.3,447.1 572.7,446.7 574.2,446.4 575.7,446.0 577.2,445.6 578.6,445.3 580.1,444.9 581.6,444.5 583.1,444.2 584.5,443.8 586.0,443.4 587.5,443.1 589.0,442.7 590.4,442.3 591.9,442.0 593.4,441.6 594.9,441.2 596.3,440.9 597.8,440.5 599.3,440.1 600.8,439.8 602.2,439.4 603.7,439.0 605.2,438.7 606.6,438.3 608.1,437.9 609.6,437.6 611.1,437.2 612.5,436.8 614.0,436.5 615.5,436.1 617.0,435.7 618.4,435.4 619.9,435.0 621.4,434.6 622.9,434.2 624.3,433.9 625.8,433.5 627.3,433.1 628.8,432.8 630.2,432.4 631.7,432.0 633.2,431.7 634.7,431.3 636.1,430.9 637.6,430.6 639.1,430.2 640.5,429.8 642.0,429.5 643.5,429.1 645.0,428.7 646.4,428.4 647.9,428.0 649.4,427.6 650.9,427.3 652.3,426.9 653.8,426.6 655.3,426.2 656.8,425.8 658.2,425.5 659.7,425.1 661.2,424.8 662.7,424.4 664.1,424.1 665.6,423.7 667.1,423.4 668.6,423.1 670.0,422.8 671.5,422.4 673.0,422.1 674.5,421.8 675.9,421.6 677.4,421.3 678.9,421.1 680.3,420.8 681.8,420.6 683.3,420.5 684.8,420.3 686.2,420.2 687.7,420.1 689.2,420.1 690.7,420.1 692.1,420.1 693.6,420.2 695.1,420.4 696.6,420.6 698.0,420.9 699.5,421.3 701.0,421.7 702.5,422.2 703.9,422.8 705.4,423.5 706.9,424.3 708.4,425.2 709.8,426.2 711.3,427.3 712.8,428.5 714.2,429.8 715.7,431.2 717.2,432.7 718.7,434.4 720.1,436.1 721.6,438.0 723.1,440.0 724.6,442.0 726.0,444.2 727.5,446.5 729.0,448.8 730.5,451.3 731.9,453.8 733.4,456.4 734.9,459.0 736.4,461.7 737.8,464.4 739.3,467.1 740.8,469.8 742.3,472.6 743.7,475.3 745.2,478.1 746.7,480.8 748.2,483.4 749.6,486.1 751.1,488.6 752.6,491.1 754.0,493.6 755.5,495.9 757.0,498.2 758.5,500.4 759.9,502.5 761.4,504.4 762.9,506.3 764.4,508.1 765.8,509.8 767.3,511.4 768.8,512.9 770.3,514.3 771.7,515.6 773.2,516.8 774.7,517.9 776.2,518.9 777.6,519.9 779.1,520.7 780.6,521.5 782.1,522.2 783.5,522.8 785.0,523.4 786.5,523.9 787.9,524.4 789.4,524.8 790.9,525.2 792.4,525.5 793.8,525.8 795.3,526.0 796.8,526.2 798.3,526.4 799.7,526.6 801.2,526.7 802.7,526.8 804.2,526.9 805.6,527.0 807.1,527.1 808.6,527.2 810.1,527.2 811.5,527.3 813.0,527.3 814.5,527.3 816.0,527.4 817.4,527.4 818.9,527.4 820.4,527.4 821.9,527.4 823.3,527.5 824.8,527.5 826.3,527.5 827.7,527.5 829.2,527.5 830.7,527.5 832.2,527.5 833.6,527.5 835.1,527.5 836.6,527.5 838.1,527.5 839.5,527.5 841.0,527.5 842.5,527.5 844.0,527.5 845.4,527.5 846.9,527.5 848.4,527.5 849.9,527.5 851.3,527.5 852.8,527.5 854.3,527.5 855.8,527.5 857.2,527.5 858.7,527.5 860.2,527.5 861.6,527.5 862.9,527.5"/>
<polyline fill="none" stroke="#0072B2" stroke-width="2.40" stroke-linejoin="round" stroke-linecap="round"  points="126.1,527.5 127.6,527.5 129.1,527.5 130.5,527.5 132.0,527.5 133.5,527.5 135.0,527.5 136.4,527.5 137.9,527.5 139.4,527.5 140.9,527.5 142.3,527.5 143.8,527.5 145.3,527.5 146.8,527.5 148.2,527.5 149.7,527.5 151.2,527.5 152.7,527.5 154.1,527.5 155.6,527.5 157.1,527.5 158.6,527.5 160.0,527.5 161.5,527.5 163.0,527.5 164.4,527.5 165.9,527.5 167.4,527.4 168.9,527.4 170.3,527.4 171.8,527.4 173.3,527.4 174.8,527.3 176.2,527.3 177.7,527.3 179.2,527.2 180.7,527.2 182.1,527.1 183.6,527.0 185.1,526.9 186.6,526.8 188.0,526.7 189.5,526.6 191.0,526.4 192.5,526.2 193.9,526.0 195.4,525.7 196.9,525.4 198.3,525.1 199.8,524.7 201.3,524.3 202.8,523.8 204.2,523.3 205.7,522.7 207.2,522.1 208.7,521.4 210.1,520.6 211.6,519.7 213.1,518.8 214.6,517.7 216.0,516.6 217.5,515.4 219.0,514.1 220.5,512.7 221.9,511.2 223.4,509.6 224.9,507.8 226.4,506.0 227.8,504.1 229.3,502.1 230.8,500.0 232.3,497.8 233.7,495.5 235.2,493.2 236.7,490.7 238.1,488.2 239.6,485.6 241.1,483.0 242.6,480.3 244.0,477.6 245.5,474.9 247.0,472.1 248.5,469.4 249.9,466.6 251.4,463.9 252.9,461.2 254.4,458.5 255.8,455.9 257.3,453.4 258.8,450.9 260.3,448.4 261.7,446.1 263.2,443.9 264.7,441.7 266.2,439.6 267.6,437.7 269.1,435.8 270.6,434.1 272.0,432.5 273.5,430.9 275.0,429.5 276.5,428.3 277.9,427.1 279.4,426.0 280.9,425.0 282.4,424.2 283.8,423.4 285.3,422.7 286.8,422.1 288.3,421.6 289.7,421.2 291.2,420.8 292.7,420.6 294.2,420.4 295.6,420.2 297.1,420.1 298.6,420.1 300.1,420.1 301.5,420.1 303.0,420.2 304.5,420.3 306.0,420.5 307.4,420.7 308.9,420.9 310.4,421.1 311.8,421.4 313.3,421.6 314.8,421.9 316.3,422.2 317.7,422.5 319.2,422.8 320.7,423.1 322.2,423.5 323.6,423.8 325.1,424.1 326.6,424.5 328.1,424.8 329.5,425.2 331.0,425.5 332.5,425.9 334.0,426.3 335.4,426.6 336.9,427.0 338.4,427.3 339.9,427.7 341.3,428.1 342.8,428.4 344.3,428.8 345.7,429.2 347.2,429.5 348.7,429.9 350.2,430.3 351.6,430.6 353.1,431.0 354.6,431.4 356.1,431.7 357.5,432.1 359.0,432.5 360.5,432.8 362.0,433.2 363.4,433.6 364.9,433.9 366.4,434.3 367.9,434.7 369.3,435.0 370.8,435.4 372.3,435.8 373.8,436.1 375.2,436.5 376.7,436.9 378.2,437.2 379.7,437.6 381.1,438.0 382.6,438.4 384.1,438.7 385.5,439.1 387.0,439.5 388.5,439.8 390.0,440.2 391.4,440.6 392.9,440.9 394.4,441.3 395.9,441.7 397.3,442.0 398.8,442.4 400.3,442.8 401.8,443.1 403.2,443.5 404.7,443.9 406.2,444.2 407.7,444.6 409.1,445.0 410.6,445.3 412.1,445.7 413.6,446.1 415.0,446.4 416.5,446.8 418.0,447.2 419.4,447.5 420.9,447.9 422.4,448.3 423.9,448.6 425.3,449.0 426.8,449.4 428.3,449.7 429.8,450.1 431.2,450.5 432.7,450.8 434.2,451.2 435.7,451.6 437.1,451.9 438.6,452.3 440.1,452.7 441.6,453.1 443.0,453.4 444.5,453.8 446.0,454.2 447.5,454.5 448.9,454.9 450.4,455.3 451.9,455.6 453.4,456.0 454.8,456.4 456.3,456.7 457.8,457.1 459.2,457.5 460.7,457.8 462.2,458.2 463.7,458.6 465.1,458.9 466.6,459.3 468.1,459.7 469.6,460.0 471.0,460.4 472.5,460.8 474.0,461.1 475.5,461.5 476.9,461.9 478.4,462.2 479.9,462.6 481.4,463.0 482.8,463.3 484.3,463.7 485.8,464.1 487.3,464.4 488.7,464.8 490.2,465.2 491.7,465.5 493.1,465.9 494.6,466.3 496.1,466.6 497.6,467.0 499.0,467.4 500.5,467.8 502.0,468.1 503.5,468.5 504.9,468.9 506.4,469.2 507.9,469.6 509.4,470.0 510.8,470.3 512.3,470.7 513.8,471.1 515.3,471.4 516.7,471.8 518.2,472.2 519.7,472.5 521.2,472.9 522.6,473.3 524.1,473.6 525.6,474.0 527.1,474.4 528.5,474.7 530.0,475.1 531.5,475.5 532.9,475.8 534.4,476.2 535.9,476.6 537.4,476.9 538.8,477.3 540.3,477.7 541.8,478.0 543.3,478.4 544.7,478.8 546.2,479.1 547.7,479.5 549.2,479.9 550.6,480.2 552.1,480.6 553.6,481.0 555.1,481.3 556.5,481.7 558.0,482.1 559.5,482.5 561.0,482.8 562.4,483.2 563.9,483.6 565.4,483.9 566.8,484.3 568.3,484.7 569.8,485.0 571.3,485.4 572.7,485.8 574.2,486.1 575.7,486.5 577.2,486.9 578.6,487.2 580.1,487.6 581.6,488.0 583.1,488.3 584.5,488.7 586.0,489.1 587.5,489.4 589.0,489.8 590.4,490.2 591.9,490.5 593.4,490.9 594.9,491.3 596.3,491.6 597.8,492.0 599.3,492.4 600.8,492.7 602.2,493.1 603.7,493.5 605.2,493.8 606.6,494.2 608.1,494.6 609.6,494.9 611.1,495.3 612.5,495.7 614.0,496.0 615.5,496.4 617.0,496.8 618.4,497.2 619.9,497.5 621.4,497.9 622.9,498.3 624.3,498.6 625.8,499.0 627.3,499.4 628.8,499.7 630.2,500.1 631.7,500.5 633.2,500.8 634.7,501.2 636.1,501.6 637.6,501.9 639.1,502.3 640.5,502.7 642.0,503.0 643.5,503.4 645.0,503.8 646.4,504.1 647.9,504.5 649.4,504.9 650.9,505.2 652.3,505.6 653.8,506.0 655.3,506.3 656.8,506.7 658.2,507.1 659.7,507.4 661.2,507.8 662.7,508.2 664.1,508.5 665.6,508.9 667.1,509.3 668.6,509.6 670.0,510.0 671.5,510.4 673.0,510.7 674.5,511.1 675.9,511.5 677.4,511.8 678.9,512.2 680.3,512.6 681.8,512.9 683.3,513.3 684.8,513.7 686.2,514.0 687.7,514.4 689.2,514.7 690.7,515.1 692.1,515.5 693.6,515.8 695.1,516.2 696.6,516.5 698.0,516.9 699.5,517.2 701.0,517.6 702.5,517.9 703.9,518.3 705.4,518.6 706.9,519.0 708.4,519.3 709.8,519.6 711.3,519.9 712.8,520.3 714.2,520.6 715.7,520.9 717.2,521.2 718.7,521.5 720.1,521.8 721.6,522.1 723.1,522.4 724.6,522.6 726.0,522.9 727.5,523.2 729.0,523.4 730.5,523.7 731.9,523.9 733.4,524.1 734.9,524.3 736.4,524.6 737.8,524.8 739.3,524.9 740.8,525.1 742.3,525.3 743.7,525.5 745.2,525.6 746.7,525.8 748.2,525.9 749.6,526.1 751.1,526.2 752.6,526.3 754.0,526.4 755.5,526.5 757.0,526.6 758.5,526.7 759.9,526.8 761.4,526.8 762.9,526.9 764.4,527.0 765.8,527.0 767.3,527.1 768.8,527.1 770.3,527.2 771.7,527.2 773.2,527.2 774.7,527.3 776.2,527.3 777.6,527.3 779.1,527.4 780.6,527.4 782.1,527.4 783.5,527.4 785.0,527.4 786.5,527.4 787.9,527.4 789.4,527.4 790.9,527.5 792.4,527.5 793.8,527.5 795.3,527.5 796.8,527.5 798.3,527.5 799.7,527.5 801.2,527.5 802.7,527.5 804.2,527.5 805.6,527.5 807.1,527.5 808.6,527.5 810.1,527.5 811.5,527.5 813.0,527.5 814.5,527.5 816.0,527.5 817.4,527.5 818.9,527.5 820.4,527.5 821.9,527.5 823.3,527.5 824.8,527.5 826.3,527.5 827.7,527.5 829.2,527.5 830.7,527.5 832.2,527.5 833.6,527.5 835.1,527.5 836.6,527.5 838.1,527.5 839.5,527.5 841.0,527.5 842.5,527.5 844.0,527.5 845.4,527.5 846.9,527.5 848.4,527.5 849.9,527.5 851.3,527.5 852.8,527.5 854.3,527.5 855.8,527.5 857.2,527.5 858.7,527.5 860.2,527.5 861.6,527.5 862.9,527.5"/>
<polyline fill="none" stroke="#E69F00" stroke-width="2.40" stroke-linejoin="round" stroke-linecap="round"  points="126.1,527.5 127.6,527.5 129.1,527.5 130.5,527.5 132.0,527.5 133.5,527.5 135.0,527.5 136.4,527.5 137.9,527.5 139.4,527.5 140.9,527.5 142.3,527.5 143.8,527.5 145.3,527.5 146.8,527.5 148.2,527.5 149.7,527.5 151.2,527.5 152.7,527.5 154.1,527.5 155.6,527.5 157.1,527.5 158.6,527.5 160.0,527.5 161.5,527.5 163.0,527.5 164.4,527.5 165.9,527.5 167.4,527.4 168.9,527.4 170.3,527.4 171.8,527.4 173.3,527.4 174.8,527.3 176.2,527.3 177.7,527.3 179.2,527.2 180.7,527.2 182.1,527.1 183.6,527.0 185.1,526.9 186.6,526.8 188.0,526.7 189.5,526.5 191.0,526.4 192.5,526.2 193.9,525.9 195.4,525.7 196.9,525.4 198.3,525.1 199.8,524.7 201.3,524.3 202.8,523.8 204.2,523.2 205.7,522.6 207.2,522.0 208.7,521.2 210.1,520.4 211.6,519.6 213.1,518.6 214.6,517.5 216.0,516.4 217.5,515.1 219.0,513.8 220.5,512.3 221.9,510.7 223.4,509.1 224.9,507.3 226.4,505.4 227.8,503.5 229.3,501.4 230.8,499.2 232.3,496.9 233.7,494.5 235.2,492.0 236.7,489.5 238.1,486.9 239.6,484.2 241.1,481.4 242.6,478.6 244.0,475.7 245.5,472.8 247.0,469.9 248.5,467.0 249.9,464.1 251.4,461.1 252.9,458.2 254.4,455.3 255.8,452.5 257.3,449.7 258.8,447.0 260.3,444.3 261.7,441.7 263.2,439.2 264.7,436.8 266.2,434.4 267.6,432.2 269.1,430.1 270.6,428.0 272.0,426.1 273.5,424.3 275.0,422.6 276.5,421.0 277.9,419.5 279.4,418.1 280.9,416.8 282.4,415.5 283.8,414.4 285.3,413.4 286.8,412.5 288.3,411.6 289.7,410.9 291.2,410.2 292.7,409.5 294.2,409.0 295.6,408.5 297.1,408.0 298.6,407.6 300.1,407.3 301.5,407.0 303.0,406.7 304.5,406.4 306.0,406.2 307.4,406.0 308.9,405.9 310.4,405.7 311.8,405.6 313.3,405.5 314.8,405.4 316.3,405.4 317.7,405.3 319.2,405.3 320.7,405.2 322.2,405.2 323.6,405.1 325.1,405.1 326.6,405.1 328.1,405.1 329.5,405.1 331.0,405.1 332.5,405.0 334.0,405.0 335.4,405.0 336.9,405.0 338.4,405.0 339.9,405.0 341.3,405.0 342.8,405.0 344.3,405.0 345.7,405.0 347.2,405.0 348.7,405.0 350.2,405.0 351.6,405.0 353.1,405.0 354.6,405.0 356.1,405.0 357.5,405.0 359.0,405.0 360.5,405.0 362.0,405.0 363.4,405.0 364.9,405.0 366.4,405.0 367.9,405.0 369.3,405.0 370.8,405.0 372.3,405.0 373.8,405.0 375.2,405.0 376.7,405.0 378.2,405.0 379.7,405.0 381.1,405.0 382.6,405.0 384.1,405.0 385.5,405.0 387.0,405.0 388.5,405.0 390.0,405.0 391.4,405.0 392.9,405.0 394.4,405.0 395.9,405.0 397.3,405.0 398.8,405.0 400.3,405.0 401.8,405.0 403.2,405.0 404.7,405.0 406.2,405.0 407.7,405.0 409.1,405.0 410.6,405.0 412.1,405.0 413.6,405.0 415.0,405.0 416.5,405.0 418.0,405.0 419.4,405.0 420.9,405.0 422.4,405.0 423.9,405.0 425.3,405.0 426.8,405.0 428.3,405.0 429.8,405.0 431.2,405.0 432.7,405.0 434.2,405.0 435.7,405.0 437.1,405.0 438.6,405.0 440.1,405.0 441.6,405.0 443.0,405.0 444.5,405.0 446.0,405.0 447.5,405.0 448.9,405.0 450.4,405.0 451.9,405.0 453.4,405.0 454.8,405.0 456.3,405.0 457.8,405.0 459.2,405.0 460.7,405.0 462.2,405.0 463.7,405.0 465.1,405.0 466.6,405.0 468.1,405.0 469.6,405.0 471.0,405.0 472.5,405.0 474.0,405.0 475.5,405.0 476.9,405.0 478.4,405.0 479.9,405.0 481.4,405.0 482.8,405.0 484.3,405.0 485.8,405.0 487.3,405.0 488.7,405.0 490.2,405.0 491.7,405.0 493.1,405.0 494.6,405.0 496.1,405.0 497.6,405.0 499.0,405.0 500.5,405.0 502.0,405.0 503.5,405.0 504.9,405.0 506.4,405.0 507.9,405.0 509.4,405.0 510.8,405.0 512.3,405.0 513.8,405.0 515.3,405.0 516.7,405.0 518.2,405.0 519.7,405.0 521.2,405.0 522.6,405.0 524.1,405.0 525.6,405.0 527.1,405.0 528.5,405.0 530.0,405.0 531.5,405.0 532.9,405.0 534.4,405.0 535.9,405.0 537.4,405.0 538.8,405.0 540.3,405.0 541.8,405.0 543.3,405.0 544.7,405.0 546.2,405.0 547.7,405.0 549.2,405.0 550.6,405.0 552.1,405.0 553.6,405.0 555.1,405.0 556.5,405.0 558.0,405.0 559.5,405.0 561.0,405.0 562.4,405.0 563.9,405.0 565.4,405.0 566.8,405.0 568.3,405.0 569.8,405.0 571.3,405.0 572.7,405.0 574.2,405.0 575.7,405.0 577.2,405.0 578.6,405.0 580.1,405.0 581.6,405.0 583.1,405.0 584.5,405.0 586.0,405.0 587.5,405.0 589.0,405.0 590.4,405.0 591.9,405.0 593.4,405.0 594.9,405.0 596.3,405.0 597.8,405.0 599.3,405.0 600.8,405.0 602.2,405.0 603.7,405.0 605.2,405.0 606.6,405.0 608.1,405.0 609.6,405.0 611.1,405.0 612.5,405.0 614.0,405.0 615.5,405.0 617.0,405.0 618.4,405.0 619.9,405.0 621.4,405.0 622.9,405.0 624.3,405.0 625.8,405.0 627.3,405.0 628.8,405.0 630.2,405.0 631.7,405.0 633.2,405.0 634.7,405.0 636.1,405.0 637.6,405.0 639.1,405.0 640.5,405.0 642.0,405.0 643.5,405.0 645.0,405.0 646.4,405.0 647.9,405.0 649.4,405.0 650.9,405.0 652.3,405.0 653.8,405.0 655.3,405.0 656.8,405.0 658.2,405.1 659.7,405.1 661.2,405.1 662.7,405.1 664.1,405.1 665.6,405.1 667.1,405.2 668.6,405.2 670.0,405.3 671.5,405.3 673.0,405.4 674.5,405.5 675.9,405.5 677.4,405.7 678.9,405.8 680.3,405.9 681.8,406.1 683.3,406.3 684.8,406.5 686.2,406.7 687.7,407.0 689.2,407.3 690.7,407.7 692.1,408.1 693.6,408.6 695.1,409.1 696.6,409.6 698.0,410.3 699.5,411.0 701.0,411.8 702.5,412.6 703.9,413.6 705.4,414.6 706.9,415.7 708.4,417.0 709.8,418.3 711.3,419.7 712.8,421.2 714.2,422.8 715.7,424.6 717.2,426.4 718.7,428.4 720.1,430.4 721.6,432.6 723.1,434.8 724.6,437.2 726.0,439.6 727.5,442.2 729.0,444.8 730.5,447.4 731.9,450.2 733.4,453.0 734.9,455.8 736.4,458.7 737.8,461.6 739.3,464.5 740.8,467.5 742.3,470.4 743.7,473.3 745.2,476.2 746.7,479.0 748.2,481.9 749.6,484.6 751.1,487.3 752.6,489.9 754.0,492.5 755.5,494.9 757.0,497.3 758.5,499.6 759.9,501.7 761.4,503.8 762.9,505.8 764.4,507.6 765.8,509.4 767.3,511.0 768.8,512.6 770.3,514.0 771.7,515.3 773.2,516.6 774.7,517.7 776.2,518.7 777.6,519.7 779.1,520.6 780.6,521.4 782.1,522.1 783.5,522.7 785.0,523.3 786.5,523.9 787.9,524.3 789.4,524.7 790.9,525.1 792.4,525.4 793.8,525.7 795.3,526.0 796.8,526.2 798.3,526.4 799.7,526.6 801.2,526.7 802.7,526.8 804.2,526.9 805.6,527.0 807.1,527.1 808.6,527.2 810.1,527.2 811.5,527.3 813.0,527.3 814.5,527.3 816.0,527.4 817.4,527.4 818.9,527.4 820.4,527.4 821.9,527.4 823.3,527.5 824.8,527.5 826.3,527.5 827.7,527.5 829.2,527.5 830.7,527.5 832.2,527.5 833.6,527.5 835.1,527.5 836.6,527.5 838.1,527.5 839.5,527.5 841.0,527.5 842.5,527.5 844.0,527.5 845.4,527.5 846.9,527.5 848.4,527.5 849.9,527.5 851.3,527.5 852.8,527.5 854.3,527.5 855.8,527.5 857.2,527.5 858.7,527.5 860.2,527.5 861.6,527.5 862.9,527.5"/>
<rect x="126.00" y="282.50" width="737.00" height="245.00" fill="none" stroke="#333" stroke-width="1.30"/>
<path fill="none" stroke="#000" stroke-width="1.00" d="M1067.90 527.50V516.00M1067.90 282.50V294.00M1149.80 527.50V516.00M1149.80 282.50V294.00M1231.70 527.50V516.00M1231.70 282.50V294.00M1313.60 527.50V516.00M1313.60 282.50V294.00M1395.50 527.50V516.00M1395.50 282.50V294.00M986.00 505.23H997.50M1477.40 505.23H1465.90M986.00 449.55H997.50M1477.40 449.55H1465.90M986.00 393.86H997.50M1477.40 393.86H1465.90M986.00 338.18H997.50M1477.40 338.18H1465.90"/>
<text x="904.30" y="292.00" textLength="57.96" lengthAdjust="spacingAndGlyphs" font-size="40">100</text>
<text x="924.13" y="347.68" textLength="37.41" lengthAdjust="spacingAndGlyphs" font-size="40">75</text>
<text x="923.24" y="403.36" textLength="39.14" lengthAdjust="spacingAndGlyphs" font-size="40">50</text>
<text x="923.29" y="459.05" textLength="38.27" lengthAdjust="spacingAndGlyphs" font-size="40">25</text>
<text x="943.01" y="514.73" textLength="19.89" lengthAdjust="spacingAndGlyphs" font-size="40">0</text>
<text transform="translate(911.00,490.12) rotate(-90)" x="0" y="0" textLength="172.47" lengthAdjust="spacingAndGlyphs" font-size="40">local EPR</text>
<text x="1004.87" y="325.55" textLength="10.94" lengthAdjust="spacingAndGlyphs" font-size="43">(</text>
<text x="1017.92" y="325.55" textLength="16.75" lengthAdjust="spacingAndGlyphs">e</text>
<text x="1036.28" y="325.55" textLength="10.39" lengthAdjust="spacingAndGlyphs" font-size="43">)</text>
<path fill="none" stroke="#000" stroke-width="0.7" stroke-dasharray="2.6,2.72" d="M986.00 505.23H1477.40M1231.70 527.50V282.50"/>
<g clip-path="url(#cr1)">
<polyline fill="none" stroke="#E51E10" stroke-width="2.40" stroke-linejoin="round" stroke-linecap="round"  points="986.0,-2274.4 987.6,-2252.2 989.3,-2230.0 990.9,-2208.0 992.6,-2186.0 994.2,-2164.2 995.8,-2142.4 997.5,-2120.7 999.1,-2099.1 1000.7,-2077.6 1002.4,-2056.1 1004.0,-2034.8 1005.7,-2013.6 1007.3,-1992.4 1008.9,-1971.3 1010.6,-1950.3 1012.2,-1929.4 1013.8,-1908.6 1015.5,-1887.9 1017.1,-1867.3 1018.8,-1846.8 1020.4,-1826.3 1022.0,-1806.0 1023.7,-1785.7 1025.3,-1765.5 1027.0,-1745.4 1028.6,-1725.4 1030.2,-1705.5 1031.9,-1685.7 1033.5,-1666.0 1035.1,-1646.3 1036.8,-1626.8 1038.4,-1607.3 1040.1,-1587.9 1041.7,-1568.6 1043.3,-1549.4 1045.0,-1530.3 1046.6,-1511.3 1048.2,-1492.4 1049.9,-1473.5 1051.5,-1454.8 1053.2,-1436.1 1054.8,-1417.5 1056.4,-1399.0 1058.1,-1380.6 1059.7,-1362.3 1061.3,-1344.1 1063.0,-1326.0 1064.6,-1308.0 1066.3,-1290.0 1067.9,-1272.1 1069.5,-1254.4 1071.2,-1236.7 1072.8,-1219.1 1074.5,-1201.6 1076.1,-1184.2 1077.7,-1166.8 1079.4,-1149.6 1081.0,-1132.4 1082.6,-1115.4 1084.3,-1098.4 1085.9,-1081.5 1087.6,-1064.7 1089.2,-1048.0 1090.8,-1031.4 1092.5,-1014.9 1094.1,-998.4 1095.7,-982.1 1097.4,-965.8 1099.0,-949.7 1100.7,-933.6 1102.3,-917.6 1103.9,-901.7 1105.6,-885.9 1107.2,-870.2 1108.8,-854.5 1110.5,-839.0 1112.1,-823.5 1113.8,-808.2 1115.4,-792.9 1117.0,-777.7 1118.7,-762.6 1120.3,-747.6 1122.0,-732.6 1123.6,-717.8 1125.2,-703.1 1126.9,-688.4 1128.5,-673.8 1130.1,-659.4 1131.8,-645.0 1133.4,-630.7 1135.1,-616.5 1136.7,-602.4 1138.3,-588.3 1140.0,-574.4 1141.6,-560.5 1143.2,-546.8 1144.9,-533.1 1146.5,-519.5 1148.2,-506.0 1149.8,-492.6 1151.4,-479.3 1153.1,-466.0 1154.7,-452.9 1156.4,-439.8 1158.0,-426.9 1159.6,-414.0 1161.3,-401.2 1162.9,-388.5 1164.5,-375.9 1166.2,-363.4 1167.8,-351.0 1169.5,-338.6 1171.1,-326.4 1172.7,-314.2 1174.4,-302.2 1176.0,-290.2 1177.6,-278.3 1179.3,-266.5 1180.9,-254.8 1182.6,-243.1 1184.2,-231.6 1185.8,-220.2 1187.5,-208.8 1189.1,-197.5 1190.8,-186.3 1192.4,-175.2 1194.0,-164.2 1195.7,-153.3 1197.3,-142.5 1198.9,-131.8 1200.6,-121.1 1202.2,-110.6 1203.9,-100.1 1205.5,-89.7 1207.1,-79.4 1208.8,-69.2 1210.4,-59.1 1212.0,-49.1 1213.7,-39.2 1215.3,-29.3 1217.0,-19.6 1218.6,-9.9 1220.2,-0.3 1221.9,9.2 1223.5,18.6 1225.1,27.9 1226.8,37.1 1228.4,46.2 1230.1,55.3 1231.7,64.2 1233.3,73.1 1235.0,81.9 1236.6,90.6 1238.3,99.2 1239.9,107.7 1241.5,116.1 1243.2,124.4 1244.8,132.6 1246.4,140.8 1248.1,148.9 1249.7,156.8 1251.4,164.7 1253.0,172.5 1254.6,180.2 1256.3,187.8 1257.9,195.4 1259.5,202.8 1261.2,210.2 1262.8,217.4 1264.5,224.6 1266.1,231.7 1267.7,238.7 1269.4,245.6 1271.0,252.4 1272.7,259.1 1274.3,265.8 1275.9,272.3 1277.6,278.8 1279.2,285.1 1280.8,291.4 1282.5,297.6 1284.1,303.7 1285.8,309.7 1287.4,315.6 1289.0,321.5 1290.7,327.2 1292.3,332.9 1293.9,338.4 1295.6,343.9 1297.2,349.3 1298.9,354.6 1300.5,359.8 1302.1,365.0 1303.8,370.0 1305.4,374.9 1307.0,379.8 1308.7,384.6 1310.3,389.2 1312.0,393.8 1313.6,398.3 1315.2,402.7 1316.9,407.0 1318.5,411.3 1320.2,415.4 1321.8,419.5 1323.4,423.4 1325.1,427.3 1326.7,431.1 1328.3,434.8 1330.0,438.4 1331.6,441.9 1333.3,445.4 1334.9,448.7 1336.5,452.0 1338.2,455.1 1339.8,458.2 1341.4,461.2 1343.1,464.1 1344.7,466.9 1346.4,469.6 1348.0,472.2 1349.6,474.8 1351.3,477.2 1352.9,479.6 1354.6,481.8 1356.2,484.0 1357.8,486.1 1359.5,488.1 1361.1,490.0 1362.7,491.9 1364.4,493.6 1366.0,495.2 1367.7,496.8 1369.3,498.3 1370.9,499.7 1372.6,501.0 1374.2,502.2 1375.8,503.3 1377.5,504.3 1379.1,505.2 1380.8,506.1 1382.4,506.8 1384.0,507.5 1385.7,508.1 1387.3,508.6 1388.9,509.0 1390.6,509.3 1392.2,509.5 1393.9,509.6 1395.5,509.7 1397.1,509.6 1398.8,509.5 1400.4,509.3 1402.1,509.0 1403.7,508.6 1405.3,508.1 1407.0,507.5 1408.6,506.8 1410.2,506.1 1411.9,505.2 1413.5,504.3 1415.2,503.3 1416.8,502.2 1418.4,501.0 1420.1,499.7 1421.7,498.3 1423.3,496.8 1425.0,495.2 1426.6,493.6 1428.3,491.9 1429.9,490.0 1431.5,488.1 1433.2,486.1 1434.8,484.0 1436.5,481.8 1438.1,479.6 1439.7,477.2 1441.4,474.8 1443.0,472.2 1444.6,469.6 1446.3,466.9 1447.9,464.1 1449.6,461.2 1451.2,458.2 1452.8,455.1 1454.5,452.0 1456.1,448.7 1457.7,445.4 1459.4,441.9 1461.0,438.4 1462.7,434.8 1464.3,431.1 1465.9,427.3 1467.6,423.4 1469.2,419.5 1470.8,415.4 1472.5,411.3 1474.1,407.0 1475.8,402.7 1477.4,398.3"/>
<polyline fill="none" stroke="#0072B2" stroke-width="2.40" stroke-linejoin="round" stroke-linecap="round"  points="986.0,398.3 987.6,402.7 989.3,407.0 990.9,411.3 992.6,415.4 994.2,419.5 995.8,423.4 997.5,427.3 999.1,431.1 1000.7,434.8 1002.4,438.4 1004.0,441.9 1005.7,445.4 1007.3,448.7 1008.9,452.0 1010.6,455.1 1012.2,458.2 1013.8,461.2 1015.5,464.1 1017.1,466.9 1018.8,469.6 1020.4,472.2 1022.0,474.8 1023.7,477.2 1025.3,479.6 1027.0,481.8 1028.6,484.0 1030.2,486.1 1031.9,488.1 1033.5,490.0 1035.1,491.9 1036.8,493.6 1038.4,495.2 1040.1,496.8 1041.7,498.3 1043.3,499.7 1045.0,501.0 1046.6,502.2 1048.2,503.3 1049.9,504.3 1051.5,505.2 1053.2,506.1 1054.8,506.8 1056.4,507.5 1058.1,508.1 1059.7,508.6 1061.3,509.0 1063.0,509.3 1064.6,509.5 1066.3,509.6 1067.9,509.7 1069.5,509.6 1071.2,509.5 1072.8,509.3 1074.5,509.0 1076.1,508.6 1077.7,508.1 1079.4,507.5 1081.0,506.8 1082.6,506.1 1084.3,505.2 1085.9,504.3 1087.6,503.3 1089.2,502.2 1090.8,501.0 1092.5,499.7 1094.1,498.3 1095.7,496.8 1097.4,495.2 1099.0,493.6 1100.7,491.9 1102.3,490.0 1103.9,488.1 1105.6,486.1 1107.2,484.0 1108.8,481.8 1110.5,479.6 1112.1,477.2 1113.8,474.8 1115.4,472.2 1117.0,469.6 1118.7,466.9 1120.3,464.1 1122.0,461.2 1123.6,458.2 1125.2,455.1 1126.9,452.0 1128.5,448.7 1130.1,445.4 1131.8,441.9 1133.4,438.4 1135.1,434.8 1136.7,431.1 1138.3,427.3 1140.0,423.4 1141.6,419.5 1143.2,415.4 1144.9,411.3 1146.5,407.0 1148.2,402.7 1149.8,398.3 1151.4,393.8 1153.1,389.2 1154.7,384.6 1156.4,379.8 1158.0,374.9 1159.6,370.0 1161.3,365.0 1162.9,359.8 1164.5,354.6 1166.2,349.3 1167.8,343.9 1169.5,338.4 1171.1,332.9 1172.7,327.2 1174.4,321.5 1176.0,315.6 1177.6,309.7 1179.3,303.7 1180.9,297.6 1182.6,291.4 1184.2,285.1 1185.8,278.8 1187.5,272.3 1189.1,265.8 1190.8,259.1 1192.4,252.4 1194.0,245.6 1195.7,238.7 1197.3,231.7 1198.9,224.6 1200.6,217.4 1202.2,210.2 1203.9,202.8 1205.5,195.4 1207.1,187.8 1208.8,180.2 1210.4,172.5 1212.0,164.7 1213.7,156.8 1215.3,148.9 1217.0,140.8 1218.6,132.6 1220.2,124.4 1221.9,116.1 1223.5,107.7 1225.1,99.2 1226.8,90.6 1228.4,81.9 1230.1,73.1 1231.7,64.2 1233.3,55.3 1235.0,46.2 1236.6,37.1 1238.3,27.9 1239.9,18.6 1241.5,9.2 1243.2,-0.3 1244.8,-9.9 1246.4,-19.6 1248.1,-29.3 1249.7,-39.2 1251.4,-49.1 1253.0,-59.1 1254.6,-69.2 1256.3,-79.4 1257.9,-89.7 1259.5,-100.1 1261.2,-110.6 1262.8,-121.1 1264.5,-131.8 1266.1,-142.5 1267.7,-153.3 1269.4,-164.2 1271.0,-175.2 1272.7,-186.3 1274.3,-197.5 1275.9,-208.8 1277.6,-220.2 1279.2,-231.6 1280.8,-243.1 1282.5,-254.8 1284.1,-266.5 1285.8,-278.3 1287.4,-290.2 1289.0,-302.2 1290.7,-314.2 1292.3,-326.4 1293.9,-338.6 1295.6,-351.0 1297.2,-363.4 1298.9,-375.9 1300.5,-388.5 1302.1,-401.2 1303.8,-414.0 1305.4,-426.9 1307.0,-439.8 1308.7,-452.9 1310.3,-466.0 1312.0,-479.3 1313.6,-492.6 1315.2,-506.0 1316.9,-519.5 1318.5,-533.1 1320.2,-546.8 1321.8,-560.5 1323.4,-574.4 1325.1,-588.3 1326.7,-602.4 1328.3,-616.5 1330.0,-630.7 1331.6,-645.0 1333.3,-659.4 1334.9,-673.8 1336.5,-688.4 1338.2,-703.1 1339.8,-717.8 1341.4,-732.6 1343.1,-747.6 1344.7,-762.6 1346.4,-777.7 1348.0,-792.9 1349.6,-808.2 1351.3,-823.5 1352.9,-839.0 1354.6,-854.5 1356.2,-870.2 1357.8,-885.9 1359.5,-901.7 1361.1,-917.6 1362.7,-933.6 1364.4,-949.7 1366.0,-965.8 1367.7,-982.1 1369.3,-998.4 1370.9,-1014.9 1372.6,-1031.4 1374.2,-1048.0 1375.8,-1064.7 1377.5,-1081.5 1379.1,-1098.4 1380.8,-1115.4 1382.4,-1132.4 1384.0,-1149.6 1385.7,-1166.8 1387.3,-1184.2 1388.9,-1201.6 1390.6,-1219.1 1392.2,-1236.7 1393.9,-1254.4 1395.5,-1272.1 1397.1,-1290.0 1398.8,-1308.0 1400.4,-1326.0 1402.1,-1344.1 1403.7,-1362.3 1405.3,-1380.6 1407.0,-1399.0 1408.6,-1417.5 1410.2,-1436.1 1411.9,-1454.8 1413.5,-1473.5 1415.2,-1492.4 1416.8,-1511.3 1418.4,-1530.3 1420.1,-1549.4 1421.7,-1568.6 1423.3,-1587.9 1425.0,-1607.3 1426.6,-1626.8 1428.3,-1646.3 1429.9,-1666.0 1431.5,-1685.7 1433.2,-1705.5 1434.8,-1725.4 1436.5,-1745.4 1438.1,-1765.5 1439.7,-1785.7 1441.4,-1806.0 1443.0,-1826.3 1444.6,-1846.8 1446.3,-1867.3 1447.9,-1887.9 1449.6,-1908.6 1451.2,-1929.4 1452.8,-1950.3 1454.5,-1971.3 1456.1,-1992.4 1457.7,-2013.6 1459.4,-2034.8 1461.0,-2056.1 1462.7,-2077.6 1464.3,-2099.1 1465.9,-2120.7 1467.6,-2142.4 1469.2,-2164.2 1470.8,-2186.0 1472.5,-2208.0 1474.1,-2230.0 1475.8,-2252.2 1477.4,-2274.4"/>
</g>
<rect x="986.00" y="282.50" width="491.40" height="245.00" fill="none" stroke="#333" stroke-width="1.30"/>
<path fill="none" stroke="#000" stroke-width="1.00" d="M248.83 793.55V782.05M248.83 548.55V560.05M371.67 793.55V782.05M371.67 548.55V560.05M494.50 793.55V782.05M494.50 548.55V560.05M617.33 793.55V782.05M617.33 548.55V560.05M740.17 793.55V782.05M740.17 548.55V560.05M126.00 732.30H137.50M863.00 732.30H851.50M126.00 671.05H137.50M863.00 671.05H851.50M126.00 609.80H137.50M863.00 609.80H851.50"/>
<text x="83.52" y="558.05" textLength="17.87" lengthAdjust="spacingAndGlyphs" font-size="40">1</text>
<text x="33.62" y="619.30" textLength="68.66" lengthAdjust="spacingAndGlyphs" font-size="40">0.75</text>
<text x="53.44" y="680.55" textLength="47.92" lengthAdjust="spacingAndGlyphs" font-size="40">0.5</text>
<text x="33.43" y="741.80" textLength="67.94" lengthAdjust="spacingAndGlyphs" font-size="40">0.25</text>
<text x="83.58" y="803.05" textLength="18.44" lengthAdjust="spacingAndGlyphs" font-size="40">0</text>
<text transform="translate(27.00,730.51) rotate(-90)" x="0" y="0" textLength="116.75" lengthAdjust="spacingAndGlyphs" font-size="40">density</text>
<text x="152.70" y="595.00" textLength="11.46" lengthAdjust="spacingAndGlyphs" font-size="43">(</text>
<text x="166.39" y="595.00" textLength="17.32" lengthAdjust="spacingAndGlyphs">c</text>
<text x="185.07" y="595.00" textLength="10.51" lengthAdjust="spacingAndGlyphs" font-size="43">)</text>
<text x="310.59" y="595.00" textLength="25.89" lengthAdjust="spacingAndGlyphs" font-style="italic">w</text>
<text x="349.60" y="598.40" textLength="30.41" lengthAdjust="spacingAndGlyphs">=</text>
<text x="391.10" y="595.00" textLength="48.96" lengthAdjust="spacingAndGlyphs" font-size="39">0.5</text>
<polyline fill="none" stroke="#E51E10" stroke-width="2.40" stroke-linejoin="round" stroke-linecap="round"  points="126.1,793.5 127.6,793.5 129.1,793.5 130.5,793.5 132.0,793.5 133.5,793.5 135.0,793.5 136.4,793.5 137.9,793.5 139.4,793.5 140.9,793.5 142.3,793.5 143.8,793.5 145.3,793.5 146.8,793.5 148.2,793.5 149.7,793.5 151.2,793.5 152.7,793.5 154.1,793.5 155.6,793.5 157.1,793.5 158.6,793.5 160.0,793.5 161.5,793.5 163.0,793.5 164.4,793.5 165.9,793.5 167.4,793.5 168.9,793.5 170.3,793.5 171.8,793.5 173.3,793.5 174.8,793.5 176.2,793.5 177.7,793.5 179.2,793.5 180.7,793.5 182.1,793.5 183.6,793.5 185.1,793.5 186.6,793.5 188.0,793.5 189.5,793.5 191.0,793.5 192.5,793.5 193.9,793.5 195.4,793.5 196.9,793.5 198.3,793.5 199.8,793.5 201.3,793.4 202.8,793.4 204.2,793.4 205.7,793.4 207.2,793.4 208.7,793.4 210.1,793.4 211.6,793.3 213.1,793.3 214.6,793.3 216.0,793.3 217.5,793.2 219.0,793.2 220.5,793.2 221.9,793.1 223.4,793.1 224.9,793.1 226.4,793.0 227.8,793.0 229.3,792.9 230.8,792.9 232.3,792.8 233.7,792.8 235.2,792.7 236.7,792.6 238.1,792.6 239.6,792.5 241.1,792.4 242.6,792.3 244.0,792.2 245.5,792.1 247.0,792.1 248.5,791.9 249.9,791.8 251.4,791.7 252.9,791.6 254.4,791.5 255.8,791.3 257.3,791.2 258.8,791.1 260.3,790.9 261.7,790.7 263.2,790.6 264.7,790.4 266.2,790.2 267.6,790.0 269.1,789.9 270.6,789.6 272.0,789.4 273.5,789.2 275.0,789.0 276.5,788.8 277.9,788.5 279.4,788.3 280.9,788.0 282.4,787.8 283.8,787.5 285.3,787.2 286.8,786.9 288.3,786.6 289.7,786.3 291.2,786.0 292.7,785.7 294.2,785.4 295.6,785.0 297.1,784.7 298.6,784.3 300.1,784.0 301.5,783.6 303.0,783.2 304.5,782.8 306.0,782.4 307.4,782.0 308.9,781.6 310.4,781.2 311.8,780.8 313.3,780.4 314.8,779.9 316.3,779.5 317.7,779.0 319.2,778.6 320.7,778.1 322.2,777.6 323.6,777.1 325.1,776.6 326.6,776.1 328.1,775.6 329.5,775.1 331.0,774.6 332.5,774.1 334.0,773.6 335.4,773.0 336.9,772.5 338.4,771.9 339.9,771.4 341.3,770.8 342.8,770.2 344.3,769.7 345.7,769.1 347.2,768.5 348.7,767.9 350.2,767.3 351.6,766.7 353.1,766.1 354.6,765.5 356.1,764.9 357.5,764.3 359.0,763.7 360.5,763.0 362.0,762.4 363.4,761.8 364.9,761.1 366.4,760.5 367.9,759.9 369.3,759.2 370.8,758.6 372.3,757.9 373.8,757.2 375.2,756.6 376.7,755.9 378.2,755.2 379.7,754.6 381.1,753.9 382.6,753.2 384.1,752.6 385.5,751.9 387.0,751.2 388.5,750.5 390.0,749.8 391.4,749.1 392.9,748.4 394.4,747.7 395.9,747.1 397.3,746.4 398.8,745.7 400.3,745.0 401.8,744.3 403.2,743.6 404.7,742.9 406.2,742.2 407.7,741.5 409.1,740.8 410.6,740.1 412.1,739.4 413.6,738.7 415.0,738.0 416.5,737.3 418.0,736.6 419.4,735.9 420.9,735.2 422.4,734.5 423.9,733.8 425.3,733.1 426.8,732.4 428.3,731.7 429.8,731.0 431.2,730.3 432.7,729.6 434.2,728.9 435.7,728.2 437.1,727.5 438.6,726.8 440.1,726.2 441.6,725.5 443.0,724.8 444.5,724.1 446.0,723.4 447.5,722.8 448.9,722.1 450.4,721.4 451.9,720.8 453.4,720.1 454.8,719.5 456.3,718.8 457.8,718.2 459.2,717.5 460.7,716.9 462.2,716.2 463.7,715.6 465.1,715.0 466.6,714.4 468.1,713.7 469.6,713.1 471.0,712.5 472.5,711.9 474.0,711.3 475.5,710.7 476.9,710.1 478.4,709.5 479.9,709.0 481.4,708.4 482.8,707.8 484.3,707.2 485.8,706.7 487.3,706.1 488.7,705.6 490.2,705.1 491.7,704.5 493.1,704.0 494.6,703.5 496.1,703.0 497.6,702.4 499.0,701.9 500.5,701.5 502.0,701.0 503.5,700.5 504.9,700.0 506.4,699.6 507.9,699.1 509.4,698.6 510.8,698.2 512.3,697.8 513.8,697.3 515.3,696.9 516.7,696.5 518.2,696.1 519.7,695.7 521.2,695.3 522.6,695.0 524.1,694.6 525.6,694.2 527.1,693.9 528.5,693.6 530.0,693.2 531.5,692.9 532.9,692.6 534.4,692.3 535.9,692.0 537.4,691.7 538.8,691.5 540.3,691.2 541.8,690.9 543.3,690.7 544.7,690.5 546.2,690.3 547.7,690.1 549.2,689.9 550.6,689.7 552.1,689.5 553.6,689.3 555.1,689.2 556.5,689.0 558.0,688.9 559.5,688.8 561.0,688.7 562.4,688.6 563.9,688.5 565.4,688.5 566.8,688.4 568.3,688.4 569.8,688.3 571.3,688.3 572.7,688.3 574.2,688.3 575.7,688.3 577.2,688.4 578.6,688.4 580.1,688.5 581.6,688.5 583.1,688.6 584.5,688.7 586.0,688.8 587.5,689.0 589.0,689.1 590.4,689.3 591.9,689.4 593.4,689.6 594.9,689.8 596.3,690.0 597.8,690.3 599.3,690.5 600.8,690.8 602.2,691.1 603.7,691.3 605.2,691.7 606.6,692.0 608.1,692.3 609.6,692.7 611.1,693.0 612.5,693.4 614.0,693.8 615.5,694.2 617.0,694.7 618.4,695.1 619.9,695.6 621.4,696.1 622.9,696.6 624.3,697.1 625.8,697.6 627.3,698.2 628.8,698.7 630.2,699.3 631.7,699.9 633.2,700.5 634.7,701.2 636.1,701.8 637.6,702.5 639.1,703.2 640.5,703.9 642.0,704.6 643.5,705.4 645.0,706.1 646.4,706.9 647.9,707.7 649.4,708.5 650.9,709.4 652.3,710.2 653.8,711.1 655.3,712.0 656.8,712.9 658.2,713.8 659.7,714.7 661.2,715.7 662.7,716.7 664.1,717.6 665.6,718.6 667.1,719.7 668.6,720.7 670.0,721.8 671.5,722.8 673.0,723.9 674.5,725.0 675.9,726.1 677.4,727.2 678.9,728.4 680.3,729.5 681.8,730.7 683.3,731.9 684.8,733.1 686.2,734.3 687.7,735.5 689.2,736.7 690.7,737.9 692.1,739.1 693.6,740.4 695.1,741.6 696.6,742.8 698.0,744.1 699.5,745.3 701.0,746.6 702.5,747.8 703.9,749.1 705.4,750.3 706.9,751.6 708.4,752.8 709.8,754.0 711.3,755.2 712.8,756.5 714.2,757.7 715.7,758.9 717.2,760.1 718.7,761.2 720.1,762.4 721.6,763.5 723.1,764.7 724.6,765.8 726.0,766.9 727.5,767.9 729.0,769.0 730.5,770.0 731.9,771.0 733.4,772.0 734.9,773.0 736.4,774.0 737.8,774.9 739.3,775.8 740.8,776.6 742.3,777.5 743.7,778.3 745.2,779.1 746.7,779.9 748.2,780.6 749.6,781.3 751.1,782.0 752.6,782.7 754.0,783.3 755.5,783.9 757.0,784.5 758.5,785.1 759.9,785.6 761.4,786.1 762.9,786.6 764.4,787.1 765.8,787.5 767.3,787.9 768.8,788.3 770.3,788.7 771.7,789.1 773.2,789.4 774.7,789.7 776.2,790.0 777.6,790.3 779.1,790.5 780.6,790.8 782.1,791.0 783.5,791.2 785.0,791.4 786.5,791.6 787.9,791.8 789.4,791.9 790.9,792.1 792.4,792.2 793.8,792.3 795.3,792.4 796.8,792.5 798.3,792.6 799.7,792.7 801.2,792.8 802.7,792.9 804.2,792.9 805.6,793.0 807.1,793.1 808.6,793.1 810.1,793.2 811.5,793.2 813.0,793.2 814.5,793.3 816.0,793.3 817.4,793.3 818.9,793.4 820.4,793.4 821.9,793.4 823.3,793.4 824.8,793.4 826.3,793.4 827.7,793.5 829.2,793.5 830.7,793.5 832.2,793.5 833.6,793.5 835.1,793.5 836.6,793.5 838.1,793.5 839.5,793.5 841.0,793.5 842.5,793.5 844.0,793.5 845.4,793.5 846.9,793.5 848.4,793.5 849.9,793.5 851.3,793.5 852.8,793.5 854.3,793.5 855.8,793.5 857.2,793.5 858.7,793.5 860.2,793.5 861.6,793.5 862.9,793.5"/>
<polyline fill="none" stroke="#0072B2" stroke-width="2.40" stroke-linejoin="round" stroke-linecap="round"  points="126.1,793.5 127.6,793.5 129.1,793.5 130.5,793.5 132.0,793.5 133.5,793.5 135.0,793.5 136.4,793.5 137.9,793.5 139.4,793.5 140.9,793.5 142.3,793.5 143.8,793.5 145.3,793.5 146.8,793.5 148.2,793.5 149.7,793.5 151.2,793.5 152.7,793.5 154.1,793.5 155.6,793.5 157.1,793.5 158.6,793.5 160.0,793.5 161.5,793.5 163.0,793.4 164.4,793.4 165.9,793.4 167.4,793.4 168.9,793.4 170.3,793.4 171.8,793.3 173.3,793.3 174.8,793.3 176.2,793.2 177.7,793.2 179.2,793.2 180.7,793.1 182.1,793.1 183.6,793.0 185.1,792.9 186.6,792.9 188.0,792.8 189.5,792.7 191.0,792.6 192.5,792.5 193.9,792.4 195.4,792.3 196.9,792.2 198.3,792.0 199.8,791.9 201.3,791.7 202.8,791.6 204.2,791.4 205.7,791.2 207.2,791.0 208.7,790.7 210.1,790.5 211.6,790.2 213.1,789.9 214.6,789.7 216.0,789.3 217.5,789.0 219.0,788.6 220.5,788.3 221.9,787.9 223.4,787.4 224.9,787.0 226.4,786.5 227.8,786.0 229.3,785.5 230.8,785.0 232.3,784.4 233.7,783.8 235.2,783.2 236.7,782.6 238.1,781.9 239.6,781.2 241.1,780.5 242.6,779.8 244.0,779.0 245.5,778.2 247.0,777.4 248.5,776.5 249.9,775.6 251.4,774.7 252.9,773.8 254.4,772.8 255.8,771.9 257.3,770.9 258.8,769.9 260.3,768.8 261.7,767.8 263.2,766.7 264.7,765.6 266.2,764.5 267.6,763.3 269.1,762.2 270.6,761.0 272.0,759.9 273.5,758.7 275.0,757.5 276.5,756.3 277.9,755.0 279.4,753.8 280.9,752.6 282.4,751.3 283.8,750.1 285.3,748.9 286.8,747.6 288.3,746.4 289.7,745.1 291.2,743.9 292.7,742.6 294.2,741.4 295.6,740.1 297.1,738.9 298.6,737.7 300.1,736.5 301.5,735.3 303.0,734.1 304.5,732.9 306.0,731.7 307.4,730.5 308.9,729.3 310.4,728.2 311.8,727.1 313.3,725.9 314.8,724.8 316.3,723.7 317.7,722.6 319.2,721.6 320.7,720.5 322.2,719.5 323.6,718.5 325.1,717.5 326.6,716.5 328.1,715.5 329.5,714.6 331.0,713.6 332.5,712.7 334.0,711.8 335.4,710.9 336.9,710.1 338.4,709.2 339.9,708.4 341.3,707.6 342.8,706.8 344.3,706.0 345.7,705.3 347.2,704.5 348.7,703.8 350.2,703.1 351.6,702.4 353.1,701.7 354.6,701.1 356.1,700.4 357.5,699.8 359.0,699.2 360.5,698.6 362.0,698.1 363.4,697.5 364.9,697.0 366.4,696.5 367.9,696.0 369.3,695.5 370.8,695.0 372.3,694.6 373.8,694.2 375.2,693.8 376.7,693.4 378.2,693.0 379.7,692.6 381.1,692.3 382.6,691.9 384.1,691.6 385.5,691.3 387.0,691.0 388.5,690.7 390.0,690.5 391.4,690.2 392.9,690.0 394.4,689.8 395.9,689.6 397.3,689.4 398.8,689.2 400.3,689.1 401.8,688.9 403.2,688.8 404.7,688.7 406.2,688.6 407.7,688.5 409.1,688.5 410.6,688.4 412.1,688.3 413.6,688.3 415.0,688.3 416.5,688.3 418.0,688.3 419.4,688.3 420.9,688.4 422.4,688.4 423.9,688.5 425.3,688.5 426.8,688.6 428.3,688.7 429.8,688.8 431.2,688.9 432.7,689.1 434.2,689.2 435.7,689.4 437.1,689.5 438.6,689.7 440.1,689.9 441.6,690.1 443.0,690.3 444.5,690.5 446.0,690.7 447.5,691.0 448.9,691.2 450.4,691.5 451.9,691.8 453.4,692.1 454.8,692.3 456.3,692.7 457.8,693.0 459.2,693.3 460.7,693.6 462.2,694.0 463.7,694.3 465.1,694.7 466.6,695.0 468.1,695.4 469.6,695.8 471.0,696.2 472.5,696.6 474.0,697.0 475.5,697.4 476.9,697.8 478.4,698.3 479.9,698.7 481.4,699.2 482.8,699.6 484.3,700.1 485.8,700.6 487.3,701.0 488.7,701.5 490.2,702.0 491.7,702.5 493.1,703.0 494.6,703.6 496.1,704.1 497.6,704.6 499.0,705.1 500.5,705.7 502.0,706.2 503.5,706.8 504.9,707.3 506.4,707.9 507.9,708.5 509.4,709.1 510.8,709.6 512.3,710.2 513.8,710.8 515.3,711.4 516.7,712.0 518.2,712.6 519.7,713.2 521.2,713.8 522.6,714.5 524.1,715.1 525.6,715.7 527.1,716.4 528.5,717.0 530.0,717.6 531.5,718.3 532.9,718.9 534.4,719.6 535.9,720.2 537.4,720.9 538.8,721.6 540.3,722.2 541.8,722.9 543.3,723.6 544.7,724.2 546.2,724.9 547.7,725.6 549.2,726.3 550.6,726.9 552.1,727.6 553.6,728.3 555.1,729.0 556.5,729.7 558.0,730.4 559.5,731.1 561.0,731.8 562.4,732.5 563.9,733.2 565.4,733.9 566.8,734.6 568.3,735.3 569.8,736.0 571.3,736.7 572.7,737.4 574.2,738.1 575.7,738.8 577.2,739.5 578.6,740.2 580.1,740.9 581.6,741.6 583.1,742.3 584.5,743.0 586.0,743.7 587.5,744.4 589.0,745.1 590.4,745.8 591.9,746.5 593.4,747.2 594.9,747.9 596.3,748.6 597.8,749.2 599.3,749.9 600.8,750.6 602.2,751.3 603.7,752.0 605.2,752.7 606.6,753.3 608.1,754.0 609.6,754.7 611.1,755.4 612.5,756.0 614.0,756.7 615.5,757.4 617.0,758.0 618.4,758.7 619.9,759.3 621.4,760.0 622.9,760.6 624.3,761.3 625.8,761.9 627.3,762.5 628.8,763.2 630.2,763.8 631.7,764.4 633.2,765.0 634.7,765.6 636.1,766.2 637.6,766.8 639.1,767.4 640.5,768.0 642.0,768.6 643.5,769.2 645.0,769.8 646.4,770.3 647.9,770.9 649.4,771.5 650.9,772.0 652.3,772.6 653.8,773.1 655.3,773.6 656.8,774.2 658.2,774.7 659.7,775.2 661.2,775.7 662.7,776.2 664.1,776.7 665.6,777.2 667.1,777.7 668.6,778.2 670.0,778.6 671.5,779.1 673.0,779.5 674.5,780.0 675.9,780.4 677.4,780.9 678.9,781.3 680.3,781.7 681.8,782.1 683.3,782.5 684.8,782.9 686.2,783.3 687.7,783.7 689.2,784.0 690.7,784.4 692.1,784.7 693.6,785.1 695.1,785.4 696.6,785.7 698.0,786.1 699.5,786.4 701.0,786.7 702.5,787.0 703.9,787.3 705.4,787.5 706.9,787.8 708.4,788.1 709.8,788.3 711.3,788.6 712.8,788.8 714.2,789.0 715.7,789.3 717.2,789.5 718.7,789.7 720.1,789.9 721.6,790.1 723.1,790.3 724.6,790.4 726.0,790.6 727.5,790.8 729.0,790.9 730.5,791.1 731.9,791.2 733.4,791.4 734.9,791.5 736.4,791.6 737.8,791.7 739.3,791.9 740.8,792.0 742.3,792.1 743.7,792.2 745.2,792.3 746.7,792.3 748.2,792.4 749.6,792.5 751.1,792.6 752.6,792.6 754.0,792.7 755.5,792.8 757.0,792.8 758.5,792.9 759.9,792.9 761.4,793.0 762.9,793.0 764.4,793.1 765.8,793.1 767.3,793.1 768.8,793.2 770.3,793.2 771.7,793.2 773.2,793.3 774.7,793.3 776.2,793.3 777.6,793.3 779.1,793.4 780.6,793.4 782.1,793.4 783.5,793.4 785.0,793.4 786.5,793.4 787.9,793.4 789.4,793.5 790.9,793.5 792.4,793.5 793.8,793.5 795.3,793.5 796.8,793.5 798.3,793.5 799.7,793.5 801.2,793.5 802.7,793.5 804.2,793.5 805.6,793.5 807.1,793.5 808.6,793.5 810.1,793.5 811.5,793.5 813.0,793.5 814.5,793.5 816.0,793.5 817.4,793.5 818.9,793.5 820.4,793.5 821.9,793.5 823.3,793.5 824.8,793.5 826.3,793.5 827.7,793.5 829.2,793.5 830.7,793.5 832.2,793.5 833.6,793.5 835.1,793.5 836.6,793.5 838.1,793.5 839.5,793.5 841.0,793.5 842.5,793.5 844.0,793.5 845.4,793.5 846.9,793.5 848.4,793.5 849.9,793.5 851.3,793.5 852.8,793.5 854.3,793.5 855.8,793.5 857.2,793.5 858.7,793.5 860.2,793.5 861.6,793.5 862.9,793.5"/>
<polyline fill="none" stroke="#E69F00" stroke-width="2.40" stroke-linejoin="round" stroke-linecap="round"  points="126.1,793.5 127.6,793.5 129.1,793.5 130.5,793.5 132.0,793.5 133.5,793.5 135.0,793.5 136.4,793.5 137.9,793.5 139.4,793.5 140.9,793.5 142.3,793.5 143.8,793.5 145.3,793.5 146.8,793.5 148.2,793.5 149.7,793.5 151.2,793.5 152.7,793.5 154.1,793.5 155.6,793.5 157.1,793.5 158.6,793.5 160.0,793.5 161.5,793.5 163.0,793.4 164.4,793.4 165.9,793.4 167.4,793.4 168.9,793.4 170.3,793.3 171.8,793.3 173.3,793.3 174.8,793.3 176.2,793.2 177.7,793.2 179.2,793.1 180.7,793.1 182.1,793.0 183.6,793.0 185.1,792.9 186.6,792.8 188.0,792.8 189.5,792.7 191.0,792.6 192.5,792.5 193.9,792.4 195.4,792.2 196.9,792.1 198.3,792.0 199.8,791.8 201.3,791.6 202.8,791.4 204.2,791.2 205.7,791.0 207.2,790.8 208.7,790.6 210.1,790.3 211.6,790.0 213.1,789.7 214.6,789.4 216.0,789.1 217.5,788.7 219.0,788.3 220.5,787.9 221.9,787.5 223.4,787.0 224.9,786.5 226.4,786.0 227.8,785.5 229.3,784.9 230.8,784.3 232.3,783.7 233.7,783.1 235.2,782.4 236.7,781.7 238.1,780.9 239.6,780.2 241.1,779.4 242.6,778.5 244.0,777.7 245.5,776.8 247.0,775.9 248.5,774.9 249.9,773.9 251.4,772.9 252.9,771.8 254.4,770.8 255.8,769.7 257.3,768.5 258.8,767.4 260.3,766.2 261.7,765.0 263.2,763.7 264.7,762.4 266.2,761.2 267.6,759.8 269.1,758.5 270.6,757.1 272.0,755.7 273.5,754.3 275.0,752.9 276.5,751.5 277.9,750.0 279.4,748.5 280.9,747.1 282.4,745.6 283.8,744.0 285.3,742.5 286.8,741.0 288.3,739.4 289.7,737.9 291.2,736.3 292.7,734.8 294.2,733.2 295.6,731.6 297.1,730.0 298.6,728.5 300.1,726.9 301.5,725.3 303.0,723.7 304.5,722.1 306.0,720.6 307.4,719.0 308.9,717.4 310.4,715.9 311.8,714.3 313.3,712.7 314.8,711.2 316.3,709.6 317.7,708.1 319.2,706.6 320.7,705.1 322.2,703.6 323.6,702.1 325.1,700.6 326.6,699.1 328.1,697.6 329.5,696.1 331.0,694.7 332.5,693.3 334.0,691.8 335.4,690.4 336.9,689.0 338.4,687.6 339.9,686.2 341.3,684.8 342.8,683.5 344.3,682.1 345.7,680.8 347.2,679.5 348.7,678.2 350.2,676.9 351.6,675.6 353.1,674.3 354.6,673.1 356.1,671.8 357.5,670.6 359.0,669.4 360.5,668.1 362.0,666.9 363.4,665.8 364.9,664.6 366.4,663.4 367.9,662.3 369.3,661.2 370.8,660.1 372.3,659.0 373.8,657.9 375.2,656.8 376.7,655.7 378.2,654.7 379.7,653.6 381.1,652.6 382.6,651.6 384.1,650.6 385.5,649.6 387.0,648.6 388.5,647.7 390.0,646.7 391.4,645.8 392.9,644.9 394.4,644.0 395.9,643.1 397.3,642.2 398.8,641.4 400.3,640.5 401.8,639.7 403.2,638.8 404.7,638.0 406.2,637.2 407.7,636.4 409.1,635.7 410.6,634.9 412.1,634.2 413.6,633.4 415.0,632.7 416.5,632.0 418.0,631.3 419.4,630.6 420.9,630.0 422.4,629.3 423.9,628.7 425.3,628.0 426.8,627.4 428.3,626.8 429.8,626.2 431.2,625.7 432.7,625.1 434.2,624.6 435.7,624.0 437.1,623.5 438.6,623.0 440.1,622.5 441.6,622.0 443.0,621.5 444.5,621.1 446.0,620.6 447.5,620.2 448.9,619.8 450.4,619.4 451.9,619.0 453.4,618.6 454.8,618.3 456.3,617.9 457.8,617.6 459.2,617.3 460.7,617.0 462.2,616.7 463.7,616.4 465.1,616.1 466.6,615.8 468.1,615.6 469.6,615.4 471.0,615.2 472.5,614.9 474.0,614.8 475.5,614.6 476.9,614.4 478.4,614.3 479.9,614.1 481.4,614.0 482.8,613.9 484.3,613.8 485.8,613.7 487.3,613.6 488.7,613.6 490.2,613.5 491.7,613.5 493.1,613.5 494.6,613.5 496.1,613.5 497.6,613.5 499.0,613.5 500.5,613.6 502.0,613.6 503.5,613.7 504.9,613.8 506.4,613.9 507.9,614.0 509.4,614.1 510.8,614.3 512.3,614.4 513.8,614.6 515.3,614.8 516.7,615.0 518.2,615.2 519.7,615.4 521.2,615.6 522.6,615.9 524.1,616.1 525.6,616.4 527.1,616.7 528.5,617.0 530.0,617.3 531.5,617.6 532.9,618.0 534.4,618.3 535.9,618.7 537.4,619.1 538.8,619.5 540.3,619.9 541.8,620.3 543.3,620.7 544.7,621.2 546.2,621.6 547.7,622.1 549.2,622.6 550.6,623.1 552.1,623.6 553.6,624.1 555.1,624.6 556.5,625.2 558.0,625.8 559.5,626.3 561.0,626.9 562.4,627.5 563.9,628.1 565.4,628.8 566.8,629.4 568.3,630.1 569.8,630.7 571.3,631.4 572.7,632.1 574.2,632.8 575.7,633.5 577.2,634.3 578.6,635.0 580.1,635.8 581.6,636.6 583.1,637.4 584.5,638.2 586.0,639.0 587.5,639.8 589.0,640.6 590.4,641.5 591.9,642.4 593.4,643.2 594.9,644.1 596.3,645.0 597.8,646.0 599.3,646.9 600.8,647.8 602.2,648.8 603.7,649.8 605.2,650.8 606.6,651.8 608.1,652.8 609.6,653.8 611.1,654.8 612.5,655.9 614.0,657.0 615.5,658.0 617.0,659.1 618.4,660.2 619.9,661.4 621.4,662.5 622.9,663.6 624.3,664.8 625.8,666.0 627.3,667.1 628.8,668.3 630.2,669.6 631.7,670.8 633.2,672.0 634.7,673.3 636.1,674.5 637.6,675.8 639.1,677.1 640.5,678.4 642.0,679.7 643.5,681.0 645.0,682.4 646.4,683.7 647.9,685.1 649.4,686.4 650.9,687.8 652.3,689.2 653.8,690.6 655.3,692.1 656.8,693.5 658.2,694.9 659.7,696.4 661.2,697.9 662.7,699.3 664.1,700.8 665.6,702.3 667.1,703.8 668.6,705.3 670.0,706.8 671.5,708.4 673.0,709.9 674.5,711.5 675.9,713.0 677.4,714.6 678.9,716.1 680.3,717.7 681.8,719.3 683.3,720.8 684.8,722.4 686.2,724.0 687.7,725.6 689.2,727.1 690.7,728.7 692.1,730.3 693.6,731.9 695.1,733.5 696.6,735.0 698.0,736.6 699.5,738.1 701.0,739.7 702.5,741.2 703.9,742.8 705.4,744.3 706.9,745.8 708.4,747.3 709.8,748.8 711.3,750.3 712.8,751.7 714.2,753.2 715.7,754.6 717.2,756.0 718.7,757.4 720.1,758.7 721.6,760.1 723.1,761.4 724.6,762.7 726.0,763.9 727.5,765.2 729.0,766.4 730.5,767.6 731.9,768.7 733.4,769.9 734.9,771.0 736.4,772.0 737.8,773.1 739.3,774.1 740.8,775.1 742.3,776.0 743.7,776.9 745.2,777.8 746.7,778.7 748.2,779.5 749.6,780.3 751.1,781.1 752.6,781.8 754.0,782.5 755.5,783.2 757.0,783.8 758.5,784.4 759.9,785.0 761.4,785.6 762.9,786.1 764.4,786.6 765.8,787.1 767.3,787.5 768.8,788.0 770.3,788.4 771.7,788.8 773.2,789.1 774.7,789.4 776.2,789.8 777.6,790.1 779.1,790.3 780.6,790.6 782.1,790.8 783.5,791.1 785.0,791.3 786.5,791.5 787.9,791.7 789.4,791.8 790.9,792.0 792.4,792.1 793.8,792.3 795.3,792.4 796.8,792.5 798.3,792.6 799.7,792.7 801.2,792.8 802.7,792.8 804.2,792.9 805.6,793.0 807.1,793.0 808.6,793.1 810.1,793.1 811.5,793.2 813.0,793.2 814.5,793.3 816.0,793.3 817.4,793.3 818.9,793.3 820.4,793.4 821.9,793.4 823.3,793.4 824.8,793.4 826.3,793.4 827.7,793.5 829.2,793.5 830.7,793.5 832.2,793.5 833.6,793.5 835.1,793.5 836.6,793.5 838.1,793.5 839.5,793.5 841.0,793.5 842.5,793.5 844.0,793.5 845.4,793.5 846.9,793.5 848.4,793.5 849.9,793.5 851.3,793.5 852.8,793.5 854.3,793.5 855.8,793.5 857.2,793.5 858.7,793.5 860.2,793.5 861.6,793.5 862.9,793.5"/>
<rect x="126.00" y="548.55" width="737.00" height="245.00" fill="none" stroke="#333" stroke-width="1.30"/>
<path fill="none" stroke="#000" stroke-width="1.00" d="M1067.90 793.55V782.05M1067.90 548.55V560.05M1149.80 793.55V782.05M1149.80 548.55V560.05M1231.70 793.55V782.05M1231.70 548.55V560.05M1313.60 793.55V782.05M1313.60 548.55V560.05M1395.50 793.55V782.05M1395.50 548.55V560.05M986.00 771.28H997.50M1477.40 771.28H1465.90M986.00 715.60H997.50M1477.40 715.60H1465.90M986.00 659.91H997.50M1477.40 659.91H1465.90M986.00 604.23H997.50M1477.40 604.23H1465.90"/>
<text x="904.30" y="558.05" textLength="57.96" lengthAdjust="spacingAndGlyphs" font-size="40">100</text>
<text x="924.13" y="613.73" textLength="37.41" lengthAdjust="spacingAndGlyphs" font-size="40">75</text>
<text x="923.24" y="669.41" textLength="39.14" lengthAdjust="spacingAndGlyphs" font-size="40">50</text>
<text x="923.29" y="725.10" textLength="38.27" lengthAdjust="spacingAndGlyphs" font-size="40">25</text>
<text x="943.01" y="780.78" textLength="19.89" lengthAdjust="spacingAndGlyphs" font-size="40">0</text>
<text transform="translate(911.00,756.17) rotate(-90)" x="0" y="0" textLength="172.47" lengthAdjust="spacingAndGlyphs" font-size="40">local EPR</text>
<text x="1004.87" y="591.60" textLength="10.94" lengthAdjust="spacingAndGlyphs" font-size="43">(</text>
<text x="1017.42" y="591.60" textLength="12.51" lengthAdjust="spacingAndGlyphs">f</text>
<text x="1034.28" y="591.60" textLength="10.39" lengthAdjust="spacingAndGlyphs" font-size="43">)</text>
<path fill="none" stroke="#000" stroke-width="0.7" stroke-dasharray="2.6,2.72" d="M986.00 771.28H1477.40M1231.70 793.55V548.55"/>
<g clip-path="url(#cr2)">
<polyline fill="none" stroke="#E51E10" stroke-width="2.40" stroke-linejoin="round" stroke-linecap="round"  points="986.0,77.5 987.6,83.0 989.3,88.6 990.9,94.1 992.6,99.6 994.2,105.0 995.8,110.5 997.5,115.9 999.1,121.3 1000.7,126.7 1002.4,132.1 1004.0,137.4 1005.7,142.7 1007.3,148.0 1008.9,153.3 1010.6,158.5 1012.2,163.7 1013.8,168.9 1015.5,174.1 1017.1,179.3 1018.8,184.4 1020.4,189.5 1022.0,194.6 1023.7,199.7 1025.3,204.7 1027.0,209.7 1028.6,214.7 1030.2,219.7 1031.9,224.7 1033.5,229.6 1035.1,234.5 1036.8,239.4 1038.4,244.3 1040.1,249.1 1041.7,253.9 1043.3,258.7 1045.0,263.5 1046.6,268.3 1048.2,273.0 1049.9,277.7 1051.5,282.4 1053.2,287.1 1054.8,291.7 1056.4,296.3 1058.1,300.9 1059.7,305.5 1061.3,310.1 1063.0,314.6 1064.6,319.1 1066.3,323.6 1067.9,328.1 1069.5,332.5 1071.2,336.9 1072.8,341.3 1074.5,345.7 1076.1,350.0 1077.7,354.4 1079.4,358.7 1081.0,363.0 1082.6,367.2 1084.3,371.5 1085.9,375.7 1087.6,379.9 1089.2,384.1 1090.8,388.2 1092.5,392.4 1094.1,396.5 1095.7,400.6 1097.4,404.6 1099.0,408.7 1100.7,412.7 1102.3,416.7 1103.9,420.7 1105.6,424.6 1107.2,428.5 1108.8,432.5 1110.5,436.3 1112.1,440.2 1113.8,444.0 1115.4,447.9 1117.0,451.7 1118.7,455.4 1120.3,459.2 1122.0,462.9 1123.6,466.6 1125.2,470.3 1126.9,474.0 1128.5,477.6 1130.1,481.2 1131.8,484.8 1133.4,488.4 1135.1,492.0 1136.7,495.5 1138.3,499.0 1140.0,502.5 1141.6,506.0 1143.2,509.4 1144.9,512.8 1146.5,516.2 1148.2,519.6 1149.8,522.9 1151.4,526.3 1153.1,529.6 1154.7,532.9 1156.4,536.1 1158.0,539.4 1159.6,542.6 1161.3,545.8 1162.9,549.0 1164.5,552.1 1166.2,555.2 1167.8,558.3 1169.5,561.4 1171.1,564.5 1172.7,567.5 1174.4,570.5 1176.0,573.5 1177.6,576.5 1179.3,579.5 1180.9,582.4 1182.6,585.3 1184.2,588.2 1185.8,591.0 1187.5,593.9 1189.1,596.7 1190.8,599.5 1192.4,602.3 1194.0,605.0 1195.7,607.8 1197.3,610.5 1198.9,613.1 1200.6,615.8 1202.2,618.4 1203.9,621.1 1205.5,623.7 1207.1,626.2 1208.8,628.8 1210.4,631.3 1212.0,633.8 1213.7,636.3 1215.3,638.8 1217.0,641.2 1218.6,643.6 1220.2,646.0 1221.9,648.4 1223.5,650.7 1225.1,653.1 1226.8,655.4 1228.4,657.6 1230.1,659.9 1231.7,662.1 1233.3,664.4 1235.0,666.6 1236.6,668.7 1238.3,670.9 1239.9,673.0 1241.5,675.1 1243.2,677.2 1244.8,679.2 1246.4,681.3 1248.1,683.3 1249.7,685.3 1251.4,687.3 1253.0,689.2 1254.6,691.1 1256.3,693.0 1257.9,694.9 1259.5,696.8 1261.2,698.6 1262.8,700.4 1264.5,702.2 1266.1,704.0 1267.7,705.8 1269.4,707.5 1271.0,709.2 1272.7,710.9 1274.3,712.5 1275.9,714.2 1277.6,715.8 1279.2,717.4 1280.8,718.9 1282.5,720.5 1284.1,722.0 1285.8,723.5 1287.4,725.0 1289.0,726.5 1290.7,727.9 1292.3,729.3 1293.9,730.7 1295.6,732.1 1297.2,733.4 1298.9,734.7 1300.5,736.0 1302.1,737.3 1303.8,738.6 1305.4,739.8 1307.0,741.0 1308.7,742.2 1310.3,743.4 1312.0,744.5 1313.6,745.7 1315.2,746.8 1316.9,747.8 1318.5,748.9 1320.2,749.9 1321.8,751.0 1323.4,751.9 1325.1,752.9 1326.7,753.9 1328.3,754.8 1330.0,755.7 1331.6,756.6 1333.3,757.4 1334.9,758.3 1336.5,759.1 1338.2,759.9 1339.8,760.6 1341.4,761.4 1343.1,762.1 1344.7,762.8 1346.4,763.5 1348.0,764.1 1349.6,764.8 1351.3,765.4 1352.9,766.0 1354.6,766.5 1356.2,767.1 1357.8,767.6 1359.5,768.1 1361.1,768.6 1362.7,769.1 1364.4,769.5 1366.0,769.9 1367.7,770.3 1369.3,770.7 1370.9,771.0 1372.6,771.3 1374.2,771.6 1375.8,771.9 1377.5,772.2 1379.1,772.4 1380.8,772.6 1382.4,772.8 1384.0,773.0 1385.7,773.1 1387.3,773.2 1388.9,773.3 1390.6,773.4 1392.2,773.5 1393.9,773.5 1395.5,773.5 1397.1,773.5 1398.8,773.5 1400.4,773.4 1402.1,773.3 1403.7,773.2 1405.3,773.1 1407.0,773.0 1408.6,772.8 1410.2,772.6 1411.9,772.4 1413.5,772.2 1415.2,771.9 1416.8,771.6 1418.4,771.3 1420.1,771.0 1421.7,770.7 1423.3,770.3 1425.0,769.9 1426.6,769.5 1428.3,769.1 1429.9,768.6 1431.5,768.1 1433.2,767.6 1434.8,767.1 1436.5,766.5 1438.1,766.0 1439.7,765.4 1441.4,764.8 1443.0,764.1 1444.6,763.5 1446.3,762.8 1447.9,762.1 1449.6,761.4 1451.2,760.6 1452.8,759.9 1454.5,759.1 1456.1,758.3 1457.7,757.4 1459.4,756.6 1461.0,755.7 1462.7,754.8 1464.3,753.9 1465.9,752.9 1467.6,751.9 1469.2,751.0 1470.8,749.9 1472.5,748.9 1474.1,747.8 1475.8,746.8 1477.4,745.7"/>
<polyline fill="none" stroke="#0072B2" stroke-width="2.40" stroke-linejoin="round" stroke-linecap="round"  points="986.0,745.7 987.6,746.8 989.3,747.8 990.9,748.9 992.6,749.9 994.2,751.0 995.8,751.9 997.5,752.9 999.1,753.9 1000.7,754.8 1002.4,755.7 1004.0,756.6 1005.7,757.4 1007.3,758.3 1008.9,759.1 1010.6,759.9 1012.2,760.6 1013.8,761.4 1015.5,762.1 1017.1,762.8 1018.8,763.5 1020.4,764.1 1022.0,764.8 1023.7,765.4 1025.3,766.0 1027.0,766.5 1028.6,767.1 1030.2,767.6 1031.9,768.1 1033.5,768.6 1035.1,769.1 1036.8,769.5 1038.4,769.9 1040.1,770.3 1041.7,770.7 1043.3,771.0 1045.0,771.3 1046.6,771.6 1048.2,771.9 1049.9,772.2 1051.5,772.4 1053.2,772.6 1054.8,772.8 1056.4,773.0 1058.1,773.1 1059.7,773.2 1061.3,773.3 1063.0,773.4 1064.6,773.5 1066.3,773.5 1067.9,773.5 1069.5,773.5 1071.2,773.5 1072.8,773.4 1074.5,773.3 1076.1,773.2 1077.7,773.1 1079.4,773.0 1081.0,772.8 1082.6,772.6 1084.3,772.4 1085.9,772.2 1087.6,771.9 1089.2,771.6 1090.8,771.3 1092.5,771.0 1094.1,770.7 1095.7,770.3 1097.4,769.9 1099.0,769.5 1100.7,769.1 1102.3,768.6 1103.9,768.1 1105.6,767.6 1107.2,767.1 1108.8,766.5 1110.5,766.0 1112.1,765.4 1113.8,764.8 1115.4,764.1 1117.0,763.5 1118.7,762.8 1120.3,762.1 1122.0,761.4 1123.6,760.6 1125.2,759.9 1126.9,759.1 1128.5,758.3 1130.1,757.4 1131.8,756.6 1133.4,755.7 1135.1,754.8 1136.7,753.9 1138.3,752.9 1140.0,751.9 1141.6,751.0 1143.2,749.9 1144.9,748.9 1146.5,747.8 1148.2,746.8 1149.8,745.7 1151.4,744.5 1153.1,743.4 1154.7,742.2 1156.4,741.0 1158.0,739.8 1159.6,738.6 1161.3,737.3 1162.9,736.0 1164.5,734.7 1166.2,733.4 1167.8,732.1 1169.5,730.7 1171.1,729.3 1172.7,727.9 1174.4,726.5 1176.0,725.0 1177.6,723.5 1179.3,722.0 1180.9,720.5 1182.6,718.9 1184.2,717.4 1185.8,715.8 1187.5,714.2 1189.1,712.5 1190.8,710.9 1192.4,709.2 1194.0,707.5 1195.7,705.8 1197.3,704.0 1198.9,702.2 1200.6,700.4 1202.2,698.6 1203.9,696.8 1205.5,694.9 1207.1,693.0 1208.8,691.1 1210.4,689.2 1212.0,687.3 1213.7,685.3 1215.3,683.3 1217.0,681.3 1218.6,679.2 1220.2,677.2 1221.9,675.1 1223.5,673.0 1225.1,670.9 1226.8,668.7 1228.4,666.6 1230.1,664.4 1231.7,662.1 1233.3,659.9 1235.0,657.6 1236.6,655.4 1238.3,653.1 1239.9,650.7 1241.5,648.4 1243.2,646.0 1244.8,643.6 1246.4,641.2 1248.1,638.8 1249.7,636.3 1251.4,633.8 1253.0,631.3 1254.6,628.8 1256.3,626.2 1257.9,623.7 1259.5,621.1 1261.2,618.4 1262.8,615.8 1264.5,613.1 1266.1,610.5 1267.7,607.8 1269.4,605.0 1271.0,602.3 1272.7,599.5 1274.3,596.7 1275.9,593.9 1277.6,591.0 1279.2,588.2 1280.8,585.3 1282.5,582.4 1284.1,579.5 1285.8,576.5 1287.4,573.5 1289.0,570.5 1290.7,567.5 1292.3,564.5 1293.9,561.4 1295.6,558.3 1297.2,555.2 1298.9,552.1 1300.5,549.0 1302.1,545.8 1303.8,542.6 1305.4,539.4 1307.0,536.1 1308.7,532.9 1310.3,529.6 1312.0,526.3 1313.6,522.9 1315.2,519.6 1316.9,516.2 1318.5,512.8 1320.2,509.4 1321.8,506.0 1323.4,502.5 1325.1,499.0 1326.7,495.5 1328.3,492.0 1330.0,488.4 1331.6,484.8 1333.3,481.2 1334.9,477.6 1336.5,474.0 1338.2,470.3 1339.8,466.6 1341.4,462.9 1343.1,459.2 1344.7,455.4 1346.4,451.7 1348.0,447.9 1349.6,444.0 1351.3,440.2 1352.9,436.3 1354.6,432.5 1356.2,428.5 1357.8,424.6 1359.5,420.7 1361.1,416.7 1362.7,412.7 1364.4,408.7 1366.0,404.6 1367.7,400.6 1369.3,396.5 1370.9,392.4 1372.6,388.2 1374.2,384.1 1375.8,379.9 1377.5,375.7 1379.1,371.5 1380.8,367.2 1382.4,363.0 1384.0,358.7 1385.7,354.4 1387.3,350.0 1388.9,345.7 1390.6,341.3 1392.2,336.9 1393.9,332.5 1395.5,328.1 1397.1,323.6 1398.8,319.1 1400.4,314.6 1402.1,310.1 1403.7,305.5 1405.3,300.9 1407.0,296.3 1408.6,291.7 1410.2,287.1 1411.9,282.4 1413.5,277.7 1415.2,273.0 1416.8,268.3 1418.4,263.5 1420.1,258.7 1421.7,253.9 1423.3,249.1 1425.0,244.3 1426.6,239.4 1428.3,234.5 1429.9,229.6 1431.5,224.7 1433.2,219.7 1434.8,214.7 1436.5,209.7 1438.1,204.7 1439.7,199.7 1441.4,194.6 1443.0,189.5 1444.6,184.4 1446.3,179.3 1447.9,174.1 1449.6,168.9 1451.2,163.7 1452.8,158.5 1454.5,153.3 1456.1,148.0 1457.7,142.7 1459.4,137.4 1461.0,132.1 1462.7,126.7 1464.3,121.3 1465.9,115.9 1467.6,110.5 1469.2,105.0 1470.8,99.6 1472.5,94.1 1474.1,88.6 1475.8,83.0 1477.4,77.5"/>
</g>
<rect x="986.00" y="548.55" width="491.40" height="245.00" fill="none" stroke="#333" stroke-width="1.30"/>
<text x="604.18" y="322.80" textLength="27.10" lengthAdjust="spacingAndGlyphs" font-size="40">R</text>
<text x="632.98" y="330.00" textLength="29.56" lengthAdjust="spacingAndGlyphs" font-size="52">+</text>
<text x="663.51" y="322.80" textLength="24.20" lengthAdjust="spacingAndGlyphs" font-size="40">L</text>
<path stroke="#E69F00" stroke-width="2.40" stroke-linecap="round" d="M711.3 313.0H814.8"/>
<text x="659.05" y="588.50" textLength="28.02" lengthAdjust="spacingAndGlyphs" font-size="40">R</text>
<path stroke="#E51E10" stroke-width="2.40" stroke-linecap="round" d="M711.3 579.0H814.8"/>
<text x="663.80" y="627.70" textLength="24.32" lengthAdjust="spacingAndGlyphs" font-size="40">L</text>
<path stroke="#0072B2" stroke-width="2.40" stroke-linecap="round" d="M711.3 618.0H814.8"/>
<text x="86.46" y="847.00" textLength="27.55" lengthAdjust="spacingAndGlyphs" font-size="40">−</text>
<text x="114.50" y="843.00" font-size="40">1.5</text>
<text x="946.46" y="847.00" textLength="27.55" lengthAdjust="spacingAndGlyphs" font-size="40">−</text>
<text x="974.50" y="843.00" font-size="40">1.5</text>
<text x="224.89" y="847.00" textLength="27.55" lengthAdjust="spacingAndGlyphs" font-size="40">−</text>
<text x="253.45" y="843.00" textLength="19.20" lengthAdjust="spacingAndGlyphs" font-size="40">1</text>
<text x="1043.96" y="847.00" textLength="27.55" lengthAdjust="spacingAndGlyphs" font-size="40">−</text>
<text x="1072.52" y="843.00" textLength="19.20" lengthAdjust="spacingAndGlyphs" font-size="40">1</text>
<text x="332.12" y="847.00" textLength="27.55" lengthAdjust="spacingAndGlyphs" font-size="40">−</text>
<text x="361.60" y="843.00" textLength="48.54" lengthAdjust="spacingAndGlyphs" font-size="40">0.5</text>
<text x="1110.26" y="847.00" textLength="27.55" lengthAdjust="spacingAndGlyphs" font-size="40">−</text>
<text x="1139.73" y="843.00" textLength="48.54" lengthAdjust="spacingAndGlyphs" font-size="40">0.5</text>
<text x="485.09" y="843.00" textLength="19.22" lengthAdjust="spacingAndGlyphs" font-size="40">0</text>
<text x="1222.29" y="843.00" textLength="19.22" lengthAdjust="spacingAndGlyphs" font-size="40">0</text>
<text x="593.26" y="843.00" textLength="48.54" lengthAdjust="spacingAndGlyphs" font-size="40">0.5</text>
<text x="1289.53" y="843.00" textLength="48.54" lengthAdjust="spacingAndGlyphs" font-size="40">0.5</text>
<text x="730.29" y="843.00" textLength="19.20" lengthAdjust="spacingAndGlyphs" font-size="40">1</text>
<text x="1385.62" y="843.00" textLength="19.20" lengthAdjust="spacingAndGlyphs" font-size="40">1</text>
<text x="837.20" y="843.00" font-size="40">1.5</text>
<text x="1451.60" y="843.00" font-size="40">1.5</text>
<text x="485.72" y="881.00" textLength="17.96" lengthAdjust="spacingAndGlyphs" font-style="italic" font-size="36">x</text>
<text x="1223.37" y="881.00" textLength="17.11" lengthAdjust="spacingAndGlyphs" font-style="italic" font-size="36">x</text>
</svg>
</body></html>
